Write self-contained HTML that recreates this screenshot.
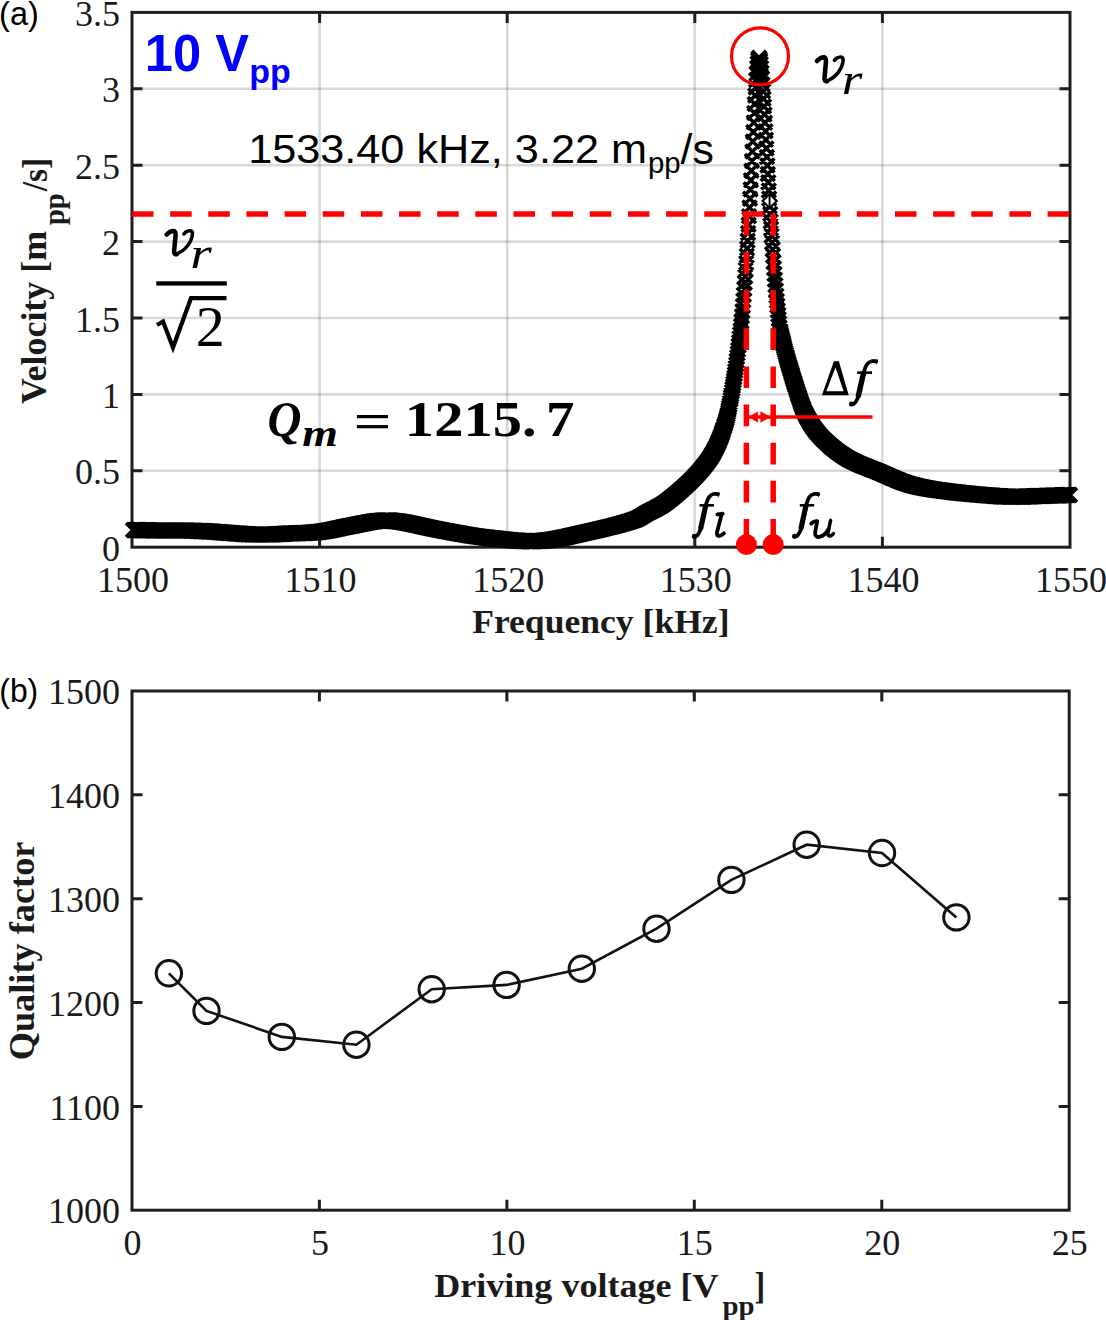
<!DOCTYPE html>
<html><head><meta charset="utf-8"><style>html,body{margin:0;padding:0;background:#fff;width:1106px;height:1320px;overflow:hidden}svg{display:block}</style></head><body>
<svg width="1106" height="1320" viewBox="0 0 1106 1320">
<rect width="1106" height="1320" fill="#fff"/>
<path d="M319.6 12.4V547.2M507.2 12.4V547.2M694.8 12.4V547.2M882.4 12.4V547.2" stroke="rgba(0,0,0,0.15)" stroke-width="2.6" fill="none"/>
<path d="M132.0 470.8H1070.0M132.0 394.4H1070.0M132.0 318.0H1070.0M132.0 241.6H1070.0M132.0 165.2H1070.0M132.0 88.8H1070.0" stroke="rgba(0,0,0,0.15)" stroke-width="2.6" fill="none"/>
<rect x="132.0" y="12.4" width="938.0" height="534.8000000000001" fill="none" stroke="#1e1e1e" stroke-width="3"/>
<path d="M319.6 12.4v10.5M319.6 547.2v-10.5M507.2 12.4v10.5M507.2 547.2v-10.5M694.8 12.4v10.5M694.8 547.2v-10.5M882.4 12.4v10.5M882.4 547.2v-10.5M132.0 470.8h10.5M1070.0 470.8h-10.5M132.0 394.4h10.5M1070.0 394.4h-10.5M132.0 318.0h10.5M1070.0 318.0h-10.5M132.0 241.6h10.5M1070.0 241.6h-10.5M132.0 165.2h10.5M1070.0 165.2h-10.5M132.0 88.8h10.5M1070.0 88.8h-10.5" stroke="#1e1e1e" stroke-width="3" fill="none"/>
<path d="M126.0 523.0l14 14m0-14l-14 14M126.5 523.0l14 14m0-14l-14 14M127.0 523.0l14 14m0-14l-14 14M127.5 523.0l14 14m0-14l-14 14M128.0 523.0l14 14m0-14l-14 14M128.5 523.0l14 14m0-14l-14 14M129.0 523.1l14 14m0-14l-14 14M129.4 523.1l14 14m0-14l-14 14M129.9 523.1l14 14m0-14l-14 14M130.4 523.1l14 14m0-14l-14 14M131.0 523.1l14 14m0-14l-14 14M131.5 523.1l14 14m0-14l-14 14M132.0 523.1l14 14m0-14l-14 14M132.5 523.1l14 14m0-14l-14 14M133.0 523.1l14 14m0-14l-14 14M133.5 523.2l14 14m0-14l-14 14M134.0 523.2l14 14m0-14l-14 14M134.5 523.2l14 14m0-14l-14 14M135.1 523.2l14 14m0-14l-14 14M135.6 523.2l14 14m0-14l-14 14M136.2 523.2l14 14m0-14l-14 14M136.7 523.2l14 14m0-14l-14 14M137.1 523.2l14 14m0-14l-14 14M137.6 523.2l14 14m0-14l-14 14M138.1 523.2l14 14m0-14l-14 14M138.6 523.3l14 14m0-14l-14 14M139.1 523.3l14 14m0-14l-14 14M139.6 523.3l14 14m0-14l-14 14M140.1 523.3l14 14m0-14l-14 14M140.6 523.3l14 14m0-14l-14 14M141.1 523.3l14 14m0-14l-14 14M141.6 523.3l14 14m0-14l-14 14M142.2 523.3l14 14m0-14l-14 14M142.7 523.3l14 14m0-14l-14 14M143.2 523.3l14 14m0-14l-14 14M143.8 523.3l14 14m0-14l-14 14M144.3 523.4l14 14m0-14l-14 14M144.8 523.4l14 14m0-14l-14 14M145.4 523.4l14 14m0-14l-14 14M145.9 523.4l14 14m0-14l-14 14M146.5 523.4l14 14m0-14l-14 14M147.0 523.4l14 14m0-14l-14 14M147.6 523.4l14 14m0-14l-14 14M148.2 523.4l14 14m0-14l-14 14M148.7 523.4l14 14m0-14l-14 14M149.3 523.4l14 14m0-14l-14 14M149.8 523.5l14 14m0-14l-14 14M150.4 523.5l14 14m0-14l-14 14M151.0 523.5l14 14m0-14l-14 14M151.5 523.5l14 14m0-14l-14 14M152.1 523.5l14 14m0-14l-14 14M152.7 523.5l14 14m0-14l-14 14M153.2 523.5l14 14m0-14l-14 14M153.8 523.5l14 14m0-14l-14 14M154.4 523.5l14 14m0-14l-14 14M155.0 523.5l14 14m0-14l-14 14M155.5 523.5l14 14m0-14l-14 14M156.1 523.5l14 14m0-14l-14 14M156.6 523.5l14 14m0-14l-14 14M157.1 523.5l14 14m0-14l-14 14M157.5 523.5l14 14m0-14l-14 14M158.0 523.5l14 14m0-14l-14 14M158.5 523.5l14 14m0-14l-14 14M159.0 523.5l14 14m0-14l-14 14M159.5 523.6l14 14m0-14l-14 14M160.0 523.6l14 14m0-14l-14 14M160.5 523.6l14 14m0-14l-14 14M161.0 523.6l14 14m0-14l-14 14M161.5 523.6l14 14m0-14l-14 14M162.0 523.6l14 14m0-14l-14 14M162.5 523.6l14 14m0-14l-14 14M163.0 523.6l14 14m0-14l-14 14M163.5 523.6l14 14m0-14l-14 14M164.0 523.6l14 14m0-14l-14 14M164.5 523.6l14 14m0-14l-14 14M165.0 523.6l14 14m0-14l-14 14M165.5 523.6l14 14m0-14l-14 14M166.1 523.6l14 14m0-14l-14 14M166.6 523.6l14 14m0-14l-14 14M167.1 523.6l14 14m0-14l-14 14M167.6 523.6l14 14m0-14l-14 14M168.2 523.6l14 14m0-14l-14 14M168.7 523.6l14 14m0-14l-14 14M169.2 523.6l14 14m0-14l-14 14M169.8 523.6l14 14m0-14l-14 14M170.3 523.6l14 14m0-14l-14 14M170.9 523.6l14 14m0-14l-14 14M171.4 523.6l14 14m0-14l-14 14M171.9 523.6l14 14m0-14l-14 14M172.5 523.6l14 14m0-14l-14 14M173.1 523.6l14 14m0-14l-14 14M173.6 523.6l14 14m0-14l-14 14M174.2 523.6l14 14m0-14l-14 14M174.7 523.6l14 14m0-14l-14 14M175.3 523.6l14 14m0-14l-14 14M175.9 523.6l14 14m0-14l-14 14M176.4 523.6l14 14m0-14l-14 14M177.0 523.6l14 14m0-14l-14 14M177.6 523.6l14 14m0-14l-14 14M178.1 523.6l14 14m0-14l-14 14M178.7 523.6l14 14m0-14l-14 14M179.3 523.6l14 14m0-14l-14 14M179.9 523.6l14 14m0-14l-14 14M180.4 523.6l14 14m0-14l-14 14M181.0 523.6l14 14m0-14l-14 14M181.6 523.6l14 14m0-14l-14 14M182.2 523.7l14 14m0-14l-14 14M182.8 523.7l14 14m0-14l-14 14M183.4 523.7l14 14m0-14l-14 14M184.0 523.7l14 14m0-14l-14 14M184.6 523.7l14 14m0-14l-14 14M185.2 523.7l14 14m0-14l-14 14M185.8 523.7l14 14m0-14l-14 14M186.4 523.7l14 14m0-14l-14 14M187.0 523.8l14 14m0-14l-14 14M187.6 523.8l14 14m0-14l-14 14M188.2 523.8l14 14m0-14l-14 14M188.8 523.8l14 14m0-14l-14 14M189.5 523.8l14 14m0-14l-14 14M190.1 523.9l14 14m0-14l-14 14M190.7 523.9l14 14m0-14l-14 14M191.3 523.9l14 14m0-14l-14 14M192.0 523.9l14 14m0-14l-14 14M192.4 523.9l14 14m0-14l-14 14M192.9 524.0l14 14m0-14l-14 14M193.4 524.0l14 14m0-14l-14 14M193.8 524.0l14 14m0-14l-14 14M194.3 524.0l14 14m0-14l-14 14M194.8 524.0l14 14m0-14l-14 14M195.3 524.1l14 14m0-14l-14 14M195.8 524.1l14 14m0-14l-14 14M196.3 524.1l14 14m0-14l-14 14M196.8 524.1l14 14m0-14l-14 14M197.3 524.2l14 14m0-14l-14 14M197.8 524.2l14 14m0-14l-14 14M198.3 524.2l14 14m0-14l-14 14M198.8 524.2l14 14m0-14l-14 14M199.3 524.3l14 14m0-14l-14 14M199.8 524.3l14 14m0-14l-14 14M200.3 524.3l14 14m0-14l-14 14M200.9 524.4l14 14m0-14l-14 14M201.4 524.4l14 14m0-14l-14 14M201.9 524.4l14 14m0-14l-14 14M202.5 524.5l14 14m0-14l-14 14M203.0 524.5l14 14m0-14l-14 14M203.5 524.5l14 14m0-14l-14 14M204.1 524.6l14 14m0-14l-14 14M204.6 524.6l14 14m0-14l-14 14M205.2 524.6l14 14m0-14l-14 14M205.7 524.7l14 14m0-14l-14 14M206.3 524.7l14 14m0-14l-14 14M206.8 524.8l14 14m0-14l-14 14M207.4 524.8l14 14m0-14l-14 14M208.0 524.8l14 14m0-14l-14 14M208.5 524.9l14 14m0-14l-14 14M209.1 524.9l14 14m0-14l-14 14M209.7 525.0l14 14m0-14l-14 14M210.2 525.0l14 14m0-14l-14 14M210.8 525.0l14 14m0-14l-14 14M211.4 525.1l14 14m0-14l-14 14M211.9 525.1l14 14m0-14l-14 14M212.5 525.2l14 14m0-14l-14 14M213.1 525.2l14 14m0-14l-14 14M213.7 525.3l14 14m0-14l-14 14M214.2 525.3l14 14m0-14l-14 14M214.8 525.3l14 14m0-14l-14 14M215.4 525.4l14 14m0-14l-14 14M216.0 525.4l14 14m0-14l-14 14M216.5 525.5l14 14m0-14l-14 14M217.1 525.5l14 14m0-14l-14 14M217.7 525.6l14 14m0-14l-14 14M218.3 525.6l14 14m0-14l-14 14M218.9 525.7l14 14m0-14l-14 14M219.4 525.7l14 14m0-14l-14 14M220.0 525.7l14 14m0-14l-14 14M220.6 525.8l14 14m0-14l-14 14M221.2 525.8l14 14m0-14l-14 14M221.8 525.9l14 14m0-14l-14 14M222.3 525.9l14 14m0-14l-14 14M222.9 526.0l14 14m0-14l-14 14M223.5 526.0l14 14m0-14l-14 14M224.1 526.0l14 14m0-14l-14 14M224.7 526.1l14 14m0-14l-14 14M225.2 526.1l14 14m0-14l-14 14M225.8 526.2l14 14m0-14l-14 14M226.4 526.2l14 14m0-14l-14 14M227.0 526.3l14 14m0-14l-14 14M227.5 526.3l14 14m0-14l-14 14M228.1 526.4l14 14m0-14l-14 14M228.7 526.4l14 14m0-14l-14 14M229.2 526.4l14 14m0-14l-14 14M229.8 526.5l14 14m0-14l-14 14M230.4 526.5l14 14m0-14l-14 14M230.9 526.6l14 14m0-14l-14 14M231.5 526.6l14 14m0-14l-14 14M232.0 526.6l14 14m0-14l-14 14M232.6 526.7l14 14m0-14l-14 14M233.2 526.7l14 14m0-14l-14 14M233.7 526.7l14 14m0-14l-14 14M234.3 526.8l14 14m0-14l-14 14M234.8 526.8l14 14m0-14l-14 14M235.4 526.9l14 14m0-14l-14 14M235.9 526.9l14 14m0-14l-14 14M236.4 526.9l14 14m0-14l-14 14M237.0 527.0l14 14m0-14l-14 14M237.5 527.0l14 14m0-14l-14 14M238.0 527.0l14 14m0-14l-14 14M238.6 527.1l14 14m0-14l-14 14M239.1 527.1l14 14m0-14l-14 14M239.6 527.1l14 14m0-14l-14 14M240.1 527.2l14 14m0-14l-14 14M240.6 527.2l14 14m0-14l-14 14M241.1 527.2l14 14m0-14l-14 14M241.7 527.2l14 14m0-14l-14 14M242.2 527.3l14 14m0-14l-14 14M242.7 527.3l14 14m0-14l-14 14M243.1 527.3l14 14m0-14l-14 14M243.6 527.3l14 14m0-14l-14 14M244.1 527.4l14 14m0-14l-14 14M244.6 527.4l14 14m0-14l-14 14M245.1 527.4l14 14m0-14l-14 14M245.6 527.4l14 14m0-14l-14 14M246.2 527.4l14 14m0-14l-14 14M246.8 527.5l14 14m0-14l-14 14M247.4 527.5l14 14m0-14l-14 14M248.0 527.5l14 14m0-14l-14 14M248.6 527.5l14 14m0-14l-14 14M249.2 527.5l14 14m0-14l-14 14M249.8 527.5l14 14m0-14l-14 14M250.3 527.6l14 14m0-14l-14 14M250.9 527.6l14 14m0-14l-14 14M251.5 527.6l14 14m0-14l-14 14M252.0 527.6l14 14m0-14l-14 14M252.6 527.6l14 14m0-14l-14 14M253.1 527.6l14 14m0-14l-14 14M253.7 527.6l14 14m0-14l-14 14M254.2 527.6l14 14m0-14l-14 14M254.7 527.6l14 14m0-14l-14 14M255.3 527.6l14 14m0-14l-14 14M255.8 527.6l14 14m0-14l-14 14M256.3 527.6l14 14m0-14l-14 14M256.8 527.6l14 14m0-14l-14 14M257.3 527.6l14 14m0-14l-14 14M257.8 527.6l14 14m0-14l-14 14M258.3 527.6l14 14m0-14l-14 14M258.8 527.6l14 14m0-14l-14 14M259.3 527.6l14 14m0-14l-14 14M259.8 527.6l14 14m0-14l-14 14M260.3 527.5l14 14m0-14l-14 14M260.8 527.5l14 14m0-14l-14 14M261.3 527.5l14 14m0-14l-14 14M261.7 527.5l14 14m0-14l-14 14M262.2 527.5l14 14m0-14l-14 14M262.8 527.5l14 14m0-14l-14 14M263.4 527.5l14 14m0-14l-14 14M264.0 527.4l14 14m0-14l-14 14M264.5 527.4l14 14m0-14l-14 14M265.1 527.4l14 14m0-14l-14 14M265.7 527.4l14 14m0-14l-14 14M266.2 527.4l14 14m0-14l-14 14M266.8 527.3l14 14m0-14l-14 14M267.3 527.3l14 14m0-14l-14 14M267.9 527.3l14 14m0-14l-14 14M268.4 527.3l14 14m0-14l-14 14M269.0 527.2l14 14m0-14l-14 14M269.5 527.2l14 14m0-14l-14 14M270.1 527.2l14 14m0-14l-14 14M270.6 527.1l14 14m0-14l-14 14M271.1 527.1l14 14m0-14l-14 14M271.7 527.1l14 14m0-14l-14 14M272.2 527.1l14 14m0-14l-14 14M272.7 527.0l14 14m0-14l-14 14M273.3 527.0l14 14m0-14l-14 14M273.8 527.0l14 14m0-14l-14 14M274.3 526.9l14 14m0-14l-14 14M274.8 526.9l14 14m0-14l-14 14M275.4 526.9l14 14m0-14l-14 14M275.9 526.9l14 14m0-14l-14 14M276.4 526.8l14 14m0-14l-14 14M276.9 526.8l14 14m0-14l-14 14M277.5 526.8l14 14m0-14l-14 14M278.0 526.7l14 14m0-14l-14 14M278.5 526.7l14 14m0-14l-14 14M279.0 526.7l14 14m0-14l-14 14M279.6 526.7l14 14m0-14l-14 14M280.1 526.6l14 14m0-14l-14 14M280.6 526.6l14 14m0-14l-14 14M281.2 526.6l14 14m0-14l-14 14M281.7 526.6l14 14m0-14l-14 14M282.2 526.5l14 14m0-14l-14 14M282.8 526.5l14 14m0-14l-14 14M283.3 526.5l14 14m0-14l-14 14M283.9 526.5l14 14m0-14l-14 14M284.4 526.4l14 14m0-14l-14 14M284.9 526.4l14 14m0-14l-14 14M285.5 526.4l14 14m0-14l-14 14M286.0 526.4l14 14m0-14l-14 14M286.5 526.4l14 14m0-14l-14 14M287.0 526.3l14 14m0-14l-14 14M287.6 526.3l14 14m0-14l-14 14M288.1 526.3l14 14m0-14l-14 14M288.6 526.3l14 14m0-14l-14 14M289.1 526.3l14 14m0-14l-14 14M289.6 526.3l14 14m0-14l-14 14M290.1 526.2l14 14m0-14l-14 14M290.6 526.2l14 14m0-14l-14 14M291.2 526.2l14 14m0-14l-14 14M291.7 526.2l14 14m0-14l-14 14M292.2 526.2l14 14m0-14l-14 14M292.7 526.2l14 14m0-14l-14 14M293.2 526.1l14 14m0-14l-14 14M293.7 526.1l14 14m0-14l-14 14M294.2 526.1l14 14m0-14l-14 14M294.7 526.1l14 14m0-14l-14 14M295.2 526.1l14 14m0-14l-14 14M295.7 526.1l14 14m0-14l-14 14M296.2 526.0l14 14m0-14l-14 14M296.6 526.0l14 14m0-14l-14 14M297.1 526.0l14 14m0-14l-14 14M297.6 526.0l14 14m0-14l-14 14M298.1 526.0l14 14m0-14l-14 14M298.6 525.9l14 14m0-14l-14 14M299.1 525.9l14 14m0-14l-14 14M299.6 525.9l14 14m0-14l-14 14M300.1 525.9l14 14m0-14l-14 14M300.6 525.8l14 14m0-14l-14 14M301.0 525.8l14 14m0-14l-14 14M301.5 525.8l14 14m0-14l-14 14M302.0 525.8l14 14m0-14l-14 14M302.5 525.7l14 14m0-14l-14 14M303.0 525.7l14 14m0-14l-14 14M303.5 525.7l14 14m0-14l-14 14M304.0 525.6l14 14m0-14l-14 14M304.4 525.6l14 14m0-14l-14 14M304.9 525.6l14 14m0-14l-14 14M305.4 525.5l14 14m0-14l-14 14M305.9 525.5l14 14m0-14l-14 14M306.4 525.5l14 14m0-14l-14 14M306.9 525.4l14 14m0-14l-14 14M307.4 525.4l14 14m0-14l-14 14M307.9 525.3l14 14m0-14l-14 14M308.4 525.3l14 14m0-14l-14 14M308.8 525.3l14 14m0-14l-14 14M309.3 525.2l14 14m0-14l-14 14M309.8 525.2l14 14m0-14l-14 14M310.3 525.1l14 14m0-14l-14 14M310.8 525.1l14 14m0-14l-14 14M311.3 525.0l14 14m0-14l-14 14M311.8 524.9l14 14m0-14l-14 14M312.3 524.9l14 14m0-14l-14 14M312.8 524.8l14 14m0-14l-14 14M313.3 524.8l14 14m0-14l-14 14M313.8 524.7l14 14m0-14l-14 14M314.3 524.6l14 14m0-14l-14 14M314.8 524.6l14 14m0-14l-14 14M315.3 524.5l14 14m0-14l-14 14M315.8 524.4l14 14m0-14l-14 14M316.3 524.3l14 14m0-14l-14 14M316.8 524.3l14 14m0-14l-14 14M317.3 524.2l14 14m0-14l-14 14M317.8 524.1l14 14m0-14l-14 14M318.3 524.0l14 14m0-14l-14 14M318.8 523.9l14 14m0-14l-14 14M319.3 523.8l14 14m0-14l-14 14M319.8 523.7l14 14m0-14l-14 14M320.3 523.7l14 14m0-14l-14 14M320.9 523.6l14 14m0-14l-14 14M321.4 523.5l14 14m0-14l-14 14M321.9 523.4l14 14m0-14l-14 14M322.4 523.3l14 14m0-14l-14 14M322.9 523.2l14 14m0-14l-14 14M323.4 523.1l14 14m0-14l-14 14M323.9 523.0l14 14m0-14l-14 14M324.4 522.9l14 14m0-14l-14 14M324.9 522.8l14 14m0-14l-14 14M325.4 522.7l14 14m0-14l-14 14M325.9 522.6l14 14m0-14l-14 14M326.4 522.5l14 14m0-14l-14 14M326.9 522.4l14 14m0-14l-14 14M327.4 522.3l14 14m0-14l-14 14M327.9 522.1l14 14m0-14l-14 14M328.4 522.0l14 14m0-14l-14 14M328.9 521.9l14 14m0-14l-14 14M329.4 521.8l14 14m0-14l-14 14M329.9 521.7l14 14m0-14l-14 14M330.4 521.6l14 14m0-14l-14 14M330.9 521.5l14 14m0-14l-14 14M331.4 521.4l14 14m0-14l-14 14M331.9 521.3l14 14m0-14l-14 14M332.4 521.2l14 14m0-14l-14 14M332.9 521.1l14 14m0-14l-14 14M333.4 521.0l14 14m0-14l-14 14M333.9 520.9l14 14m0-14l-14 14M334.4 520.7l14 14m0-14l-14 14M334.9 520.6l14 14m0-14l-14 14M335.4 520.5l14 14m0-14l-14 14M335.9 520.4l14 14m0-14l-14 14M336.4 520.3l14 14m0-14l-14 14M336.9 520.2l14 14m0-14l-14 14M337.4 520.1l14 14m0-14l-14 14M337.9 520.0l14 14m0-14l-14 14M338.4 519.9l14 14m0-14l-14 14M338.9 519.8l14 14m0-14l-14 14M339.4 519.7l14 14m0-14l-14 14M339.9 519.6l14 14m0-14l-14 14M340.4 519.5l14 14m0-14l-14 14M340.9 519.4l14 14m0-14l-14 14M341.4 519.3l14 14m0-14l-14 14M341.8 519.2l14 14m0-14l-14 14M342.3 519.1l14 14m0-14l-14 14M342.8 519.0l14 14m0-14l-14 14M343.3 518.9l14 14m0-14l-14 14M343.8 518.9l14 14m0-14l-14 14M344.3 518.8l14 14m0-14l-14 14M344.7 518.7l14 14m0-14l-14 14M345.2 518.6l14 14m0-14l-14 14M345.7 518.5l14 14m0-14l-14 14M346.2 518.4l14 14m0-14l-14 14M346.7 518.3l14 14m0-14l-14 14M347.2 518.2l14 14m0-14l-14 14M347.7 518.1l14 14m0-14l-14 14M348.1 518.0l14 14m0-14l-14 14M348.6 517.9l14 14m0-14l-14 14M349.1 517.8l14 14m0-14l-14 14M349.6 517.7l14 14m0-14l-14 14M350.1 517.6l14 14m0-14l-14 14M350.6 517.5l14 14m0-14l-14 14M351.1 517.4l14 14m0-14l-14 14M351.5 517.3l14 14m0-14l-14 14M352.0 517.2l14 14m0-14l-14 14M352.5 517.1l14 14m0-14l-14 14M353.0 517.0l14 14m0-14l-14 14M353.5 516.9l14 14m0-14l-14 14M354.0 516.8l14 14m0-14l-14 14M354.4 516.7l14 14m0-14l-14 14M354.9 516.6l14 14m0-14l-14 14M355.4 516.5l14 14m0-14l-14 14M355.9 516.4l14 14m0-14l-14 14M356.4 516.3l14 14m0-14l-14 14M356.8 516.2l14 14m0-14l-14 14M357.3 516.1l14 14m0-14l-14 14M357.8 516.0l14 14m0-14l-14 14M358.3 515.9l14 14m0-14l-14 14M358.7 515.9l14 14m0-14l-14 14M359.2 515.8l14 14m0-14l-14 14M359.8 515.7l14 14m0-14l-14 14M360.3 515.6l14 14m0-14l-14 14M360.9 515.4l14 14m0-14l-14 14M361.4 515.3l14 14m0-14l-14 14M362.0 515.2l14 14m0-14l-14 14M362.6 515.2l14 14m0-14l-14 14M363.1 515.1l14 14m0-14l-14 14M363.7 515.0l14 14m0-14l-14 14M364.2 514.9l14 14m0-14l-14 14M364.7 514.8l14 14m0-14l-14 14M365.3 514.7l14 14m0-14l-14 14M365.8 514.6l14 14m0-14l-14 14M366.3 514.5l14 14m0-14l-14 14M366.9 514.5l14 14m0-14l-14 14M367.4 514.4l14 14m0-14l-14 14M367.9 514.3l14 14m0-14l-14 14M368.5 514.3l14 14m0-14l-14 14M369.0 514.2l14 14m0-14l-14 14M369.5 514.1l14 14m0-14l-14 14M370.0 514.1l14 14m0-14l-14 14M370.5 514.0l14 14m0-14l-14 14M371.0 514.0l14 14m0-14l-14 14M371.5 514.0l14 14m0-14l-14 14M372.0 513.9l14 14m0-14l-14 14M372.5 513.9l14 14m0-14l-14 14M373.1 513.8l14 14m0-14l-14 14M373.6 513.8l14 14m0-14l-14 14M374.1 513.7l14 14m0-14l-14 14M374.6 513.7l14 14m0-14l-14 14M375.0 513.7l14 14m0-14l-14 14M375.5 513.6l14 14m0-14l-14 14M376.0 513.6l14 14m0-14l-14 14M376.6 513.6l14 14m0-14l-14 14M377.1 513.6l14 14m0-14l-14 14M377.6 513.5l14 14m0-14l-14 14M378.1 513.5l14 14m0-14l-14 14M378.6 513.5l14 14m0-14l-14 14M379.0 513.5l14 14m0-14l-14 14M379.5 513.5l14 14m0-14l-14 14M380.0 513.5l14 14m0-14l-14 14M380.5 513.5l14 14m0-14l-14 14M381.0 513.5l14 14m0-14l-14 14M381.5 513.5l14 14m0-14l-14 14M382.0 513.5l14 14m0-14l-14 14M382.5 513.5l14 14m0-14l-14 14M383.0 513.6l14 14m0-14l-14 14M383.6 513.6l14 14m0-14l-14 14M384.1 513.6l14 14m0-14l-14 14M384.5 513.7l14 14m0-14l-14 14M385.0 513.7l14 14m0-14l-14 14M385.6 513.8l14 14m0-14l-14 14M386.1 513.8l14 14m0-14l-14 14M386.6 513.9l14 14m0-14l-14 14M387.1 513.9l14 14m0-14l-14 14M387.6 514.0l14 14m0-14l-14 14M388.1 514.0l14 14m0-14l-14 14M388.6 514.1l14 14m0-14l-14 14M389.2 514.2l14 14m0-14l-14 14M389.7 514.2l14 14m0-14l-14 14M390.3 514.3l14 14m0-14l-14 14M390.7 514.4l14 14m0-14l-14 14M391.2 514.4l14 14m0-14l-14 14M391.7 514.5l14 14m0-14l-14 14M392.3 514.6l14 14m0-14l-14 14M392.8 514.7l14 14m0-14l-14 14M393.3 514.7l14 14m0-14l-14 14M393.9 514.8l14 14m0-14l-14 14M394.4 514.9l14 14m0-14l-14 14M395.0 515.0l14 14m0-14l-14 14M395.6 515.1l14 14m0-14l-14 14M396.1 515.2l14 14m0-14l-14 14M396.6 515.3l14 14m0-14l-14 14M397.1 515.4l14 14m0-14l-14 14M397.5 515.5l14 14m0-14l-14 14M398.1 515.6l14 14m0-14l-14 14M398.6 515.6l14 14m0-14l-14 14M399.1 515.7l14 14m0-14l-14 14M399.6 515.8l14 14m0-14l-14 14M400.1 515.9l14 14m0-14l-14 14M400.6 516.0l14 14m0-14l-14 14M401.2 516.2l14 14m0-14l-14 14M401.7 516.3l14 14m0-14l-14 14M402.2 516.4l14 14m0-14l-14 14M402.8 516.5l14 14m0-14l-14 14M403.3 516.6l14 14m0-14l-14 14M403.9 516.7l14 14m0-14l-14 14M404.5 516.8l14 14m0-14l-14 14M405.0 516.9l14 14m0-14l-14 14M405.6 517.1l14 14m0-14l-14 14M406.2 517.2l14 14m0-14l-14 14M406.7 517.3l14 14m0-14l-14 14M407.3 517.4l14 14m0-14l-14 14M407.9 517.6l14 14m0-14l-14 14M408.5 517.7l14 14m0-14l-14 14M409.1 517.8l14 14m0-14l-14 14M409.7 517.9l14 14m0-14l-14 14M410.3 518.1l14 14m0-14l-14 14M410.9 518.2l14 14m0-14l-14 14M411.5 518.3l14 14m0-14l-14 14M412.1 518.5l14 14m0-14l-14 14M412.7 518.6l14 14m0-14l-14 14M413.3 518.7l14 14m0-14l-14 14M413.9 518.9l14 14m0-14l-14 14M414.5 519.0l14 14m0-14l-14 14M415.1 519.1l14 14m0-14l-14 14M415.7 519.3l14 14m0-14l-14 14M416.3 519.4l14 14m0-14l-14 14M416.9 519.5l14 14m0-14l-14 14M417.6 519.7l14 14m0-14l-14 14M418.2 519.8l14 14m0-14l-14 14M418.8 520.0l14 14m0-14l-14 14M419.4 520.1l14 14m0-14l-14 14M420.0 520.2l14 14m0-14l-14 14M420.7 520.4l14 14m0-14l-14 14M421.3 520.5l14 14m0-14l-14 14M421.9 520.6l14 14m0-14l-14 14M422.5 520.8l14 14m0-14l-14 14M423.1 520.9l14 14m0-14l-14 14M423.8 521.0l14 14m0-14l-14 14M424.4 521.2l14 14m0-14l-14 14M425.0 521.3l14 14m0-14l-14 14M425.6 521.4l14 14m0-14l-14 14M426.2 521.6l14 14m0-14l-14 14M426.8 521.7l14 14m0-14l-14 14M427.5 521.8l14 14m0-14l-14 14M428.1 521.9l14 14m0-14l-14 14M428.7 522.1l14 14m0-14l-14 14M429.3 522.2l14 14m0-14l-14 14M429.9 522.3l14 14m0-14l-14 14M430.5 522.4l14 14m0-14l-14 14M431.1 522.6l14 14m0-14l-14 14M431.7 522.7l14 14m0-14l-14 14M432.3 522.8l14 14m0-14l-14 14M432.9 522.9l14 14m0-14l-14 14M433.5 523.0l14 14m0-14l-14 14M434.1 523.1l14 14m0-14l-14 14M434.7 523.3l14 14m0-14l-14 14M435.3 523.4l14 14m0-14l-14 14M435.9 523.5l14 14m0-14l-14 14M436.4 523.6l14 14m0-14l-14 14M437.0 523.7l14 14m0-14l-14 14M437.6 523.8l14 14m0-14l-14 14M438.2 523.9l14 14m0-14l-14 14M438.7 524.0l14 14m0-14l-14 14M439.3 524.1l14 14m0-14l-14 14M439.9 524.2l14 14m0-14l-14 14M440.5 524.3l14 14m0-14l-14 14M441.0 524.4l14 14m0-14l-14 14M441.6 524.5l14 14m0-14l-14 14M442.2 524.6l14 14m0-14l-14 14M442.8 524.7l14 14m0-14l-14 14M443.3 524.9l14 14m0-14l-14 14M443.9 525.0l14 14m0-14l-14 14M444.5 525.1l14 14m0-14l-14 14M445.0 525.2l14 14m0-14l-14 14M445.6 525.3l14 14m0-14l-14 14M446.2 525.4l14 14m0-14l-14 14M446.7 525.5l14 14m0-14l-14 14M447.3 525.6l14 14m0-14l-14 14M447.9 525.7l14 14m0-14l-14 14M448.4 525.8l14 14m0-14l-14 14M449.0 525.9l14 14m0-14l-14 14M449.6 526.0l14 14m0-14l-14 14M450.2 526.1l14 14m0-14l-14 14M450.7 526.2l14 14m0-14l-14 14M451.3 526.3l14 14m0-14l-14 14M451.9 526.4l14 14m0-14l-14 14M452.4 526.5l14 14m0-14l-14 14M453.0 526.6l14 14m0-14l-14 14M453.6 526.7l14 14m0-14l-14 14M454.1 526.8l14 14m0-14l-14 14M454.7 526.9l14 14m0-14l-14 14M455.3 527.0l14 14m0-14l-14 14M455.9 527.1l14 14m0-14l-14 14M456.4 527.2l14 14m0-14l-14 14M457.0 527.3l14 14m0-14l-14 14M457.6 527.4l14 14m0-14l-14 14M458.2 527.5l14 14m0-14l-14 14M458.7 527.6l14 14m0-14l-14 14M459.3 527.7l14 14m0-14l-14 14M459.9 527.8l14 14m0-14l-14 14M460.5 527.9l14 14m0-14l-14 14M461.0 528.0l14 14m0-14l-14 14M461.6 528.1l14 14m0-14l-14 14M462.2 528.2l14 14m0-14l-14 14M462.8 528.3l14 14m0-14l-14 14M463.4 528.4l14 14m0-14l-14 14M464.0 528.5l14 14m0-14l-14 14M464.6 528.5l14 14m0-14l-14 14M465.1 528.6l14 14m0-14l-14 14M465.7 528.7l14 14m0-14l-14 14M466.3 528.8l14 14m0-14l-14 14M466.9 528.9l14 14m0-14l-14 14M467.5 529.0l14 14m0-14l-14 14M468.1 529.1l14 14m0-14l-14 14M468.7 529.2l14 14m0-14l-14 14M469.3 529.3l14 14m0-14l-14 14M469.9 529.3l14 14m0-14l-14 14M470.5 529.4l14 14m0-14l-14 14M471.1 529.5l14 14m0-14l-14 14M471.7 529.6l14 14m0-14l-14 14M472.3 529.7l14 14m0-14l-14 14M473.0 529.8l14 14m0-14l-14 14M473.6 529.8l14 14m0-14l-14 14M474.2 529.9l14 14m0-14l-14 14M474.8 530.0l14 14m0-14l-14 14M475.4 530.1l14 14m0-14l-14 14M476.1 530.1l14 14m0-14l-14 14M476.7 530.2l14 14m0-14l-14 14M477.1 530.3l14 14m0-14l-14 14M477.6 530.3l14 14m0-14l-14 14M478.1 530.4l14 14m0-14l-14 14M478.6 530.4l14 14m0-14l-14 14M479.0 530.5l14 14m0-14l-14 14M479.5 530.5l14 14m0-14l-14 14M480.0 530.6l14 14m0-14l-14 14M480.5 530.7l14 14m0-14l-14 14M481.0 530.7l14 14m0-14l-14 14M481.4 530.8l14 14m0-14l-14 14M481.9 530.8l14 14m0-14l-14 14M482.4 530.9l14 14m0-14l-14 14M482.9 530.9l14 14m0-14l-14 14M483.4 531.0l14 14m0-14l-14 14M483.9 531.0l14 14m0-14l-14 14M484.4 531.1l14 14m0-14l-14 14M484.9 531.1l14 14m0-14l-14 14M485.4 531.2l14 14m0-14l-14 14M485.9 531.3l14 14m0-14l-14 14M486.4 531.3l14 14m0-14l-14 14M486.9 531.4l14 14m0-14l-14 14M487.4 531.4l14 14m0-14l-14 14M487.9 531.5l14 14m0-14l-14 14M488.4 531.5l14 14m0-14l-14 14M488.9 531.6l14 14m0-14l-14 14M489.4 531.7l14 14m0-14l-14 14M489.9 531.7l14 14m0-14l-14 14M490.4 531.8l14 14m0-14l-14 14M491.0 531.8l14 14m0-14l-14 14M491.5 531.9l14 14m0-14l-14 14M492.0 531.9l14 14m0-14l-14 14M492.5 532.0l14 14m0-14l-14 14M493.0 532.1l14 14m0-14l-14 14M493.5 532.1l14 14m0-14l-14 14M494.1 532.2l14 14m0-14l-14 14M494.6 532.2l14 14m0-14l-14 14M495.1 532.3l14 14m0-14l-14 14M495.6 532.3l14 14m0-14l-14 14M496.2 532.4l14 14m0-14l-14 14M496.7 532.4l14 14m0-14l-14 14M497.2 532.5l14 14m0-14l-14 14M497.7 532.6l14 14m0-14l-14 14M498.3 532.6l14 14m0-14l-14 14M498.8 532.7l14 14m0-14l-14 14M499.3 532.7l14 14m0-14l-14 14M499.8 532.8l14 14m0-14l-14 14M500.4 532.8l14 14m0-14l-14 14M500.9 532.9l14 14m0-14l-14 14M501.4 532.9l14 14m0-14l-14 14M502.0 533.0l14 14m0-14l-14 14M502.5 533.0l14 14m0-14l-14 14M503.0 533.1l14 14m0-14l-14 14M503.6 533.1l14 14m0-14l-14 14M504.1 533.2l14 14m0-14l-14 14M504.6 533.2l14 14m0-14l-14 14M505.2 533.3l14 14m0-14l-14 14M505.7 533.3l14 14m0-14l-14 14M506.2 533.4l14 14m0-14l-14 14M506.8 533.4l14 14m0-14l-14 14M507.3 533.4l14 14m0-14l-14 14M507.8 533.5l14 14m0-14l-14 14M508.4 533.5l14 14m0-14l-14 14M508.9 533.6l14 14m0-14l-14 14M509.4 533.6l14 14m0-14l-14 14M510.0 533.6l14 14m0-14l-14 14M510.5 533.7l14 14m0-14l-14 14M511.0 533.7l14 14m0-14l-14 14M511.6 533.7l14 14m0-14l-14 14M512.1 533.8l14 14m0-14l-14 14M512.6 533.8l14 14m0-14l-14 14M513.2 533.8l14 14m0-14l-14 14M513.7 533.9l14 14m0-14l-14 14M514.2 533.9l14 14m0-14l-14 14M514.8 533.9l14 14m0-14l-14 14M515.3 534.0l14 14m0-14l-14 14M515.8 534.0l14 14m0-14l-14 14M516.4 534.0l14 14m0-14l-14 14M516.9 534.0l14 14m0-14l-14 14M517.4 534.1l14 14m0-14l-14 14M518.0 534.1l14 14m0-14l-14 14M518.5 534.1l14 14m0-14l-14 14M519.0 534.1l14 14m0-14l-14 14M519.6 534.1l14 14m0-14l-14 14M520.1 534.1l14 14m0-14l-14 14M520.6 534.2l14 14m0-14l-14 14M521.1 534.2l14 14m0-14l-14 14M521.7 534.2l14 14m0-14l-14 14M522.2 534.2l14 14m0-14l-14 14M522.7 534.2l14 14m0-14l-14 14M523.2 534.2l14 14m0-14l-14 14M523.8 534.2l14 14m0-14l-14 14M524.3 534.2l14 14m0-14l-14 14M524.8 534.2l14 14m0-14l-14 14M525.3 534.2l14 14m0-14l-14 14M525.8 534.2l14 14m0-14l-14 14M526.4 534.2l14 14m0-14l-14 14M526.9 534.2l14 14m0-14l-14 14M527.4 534.2l14 14m0-14l-14 14M527.9 534.2l14 14m0-14l-14 14M528.4 534.1l14 14m0-14l-14 14M528.9 534.1l14 14m0-14l-14 14M529.5 534.1l14 14m0-14l-14 14M530.0 534.1l14 14m0-14l-14 14M530.5 534.1l14 14m0-14l-14 14M531.0 534.1l14 14m0-14l-14 14M531.5 534.0l14 14m0-14l-14 14M532.0 534.0l14 14m0-14l-14 14M532.5 534.0l14 14m0-14l-14 14M533.0 533.9l14 14m0-14l-14 14M533.5 533.9l14 14m0-14l-14 14M534.0 533.9l14 14m0-14l-14 14M534.5 533.8l14 14m0-14l-14 14M535.0 533.8l14 14m0-14l-14 14M535.5 533.7l14 14m0-14l-14 14M536.0 533.7l14 14m0-14l-14 14M536.5 533.7l14 14m0-14l-14 14M537.0 533.6l14 14m0-14l-14 14M537.6 533.6l14 14m0-14l-14 14M538.1 533.5l14 14m0-14l-14 14M538.6 533.5l14 14m0-14l-14 14M539.1 533.4l14 14m0-14l-14 14M539.6 533.3l14 14m0-14l-14 14M540.1 533.3l14 14m0-14l-14 14M540.6 533.2l14 14m0-14l-14 14M541.1 533.2l14 14m0-14l-14 14M541.6 533.1l14 14m0-14l-14 14M542.1 533.0l14 14m0-14l-14 14M542.6 533.0l14 14m0-14l-14 14M543.1 532.9l14 14m0-14l-14 14M543.6 532.8l14 14m0-14l-14 14M544.1 532.7l14 14m0-14l-14 14M544.6 532.7l14 14m0-14l-14 14M545.1 532.6l14 14m0-14l-14 14M545.6 532.5l14 14m0-14l-14 14M546.1 532.4l14 14m0-14l-14 14M546.6 532.4l14 14m0-14l-14 14M547.1 532.3l14 14m0-14l-14 14M547.6 532.2l14 14m0-14l-14 14M548.1 532.1l14 14m0-14l-14 14M548.6 532.0l14 14m0-14l-14 14M549.1 531.9l14 14m0-14l-14 14M549.6 531.8l14 14m0-14l-14 14M550.1 531.8l14 14m0-14l-14 14M550.6 531.7l14 14m0-14l-14 14M551.1 531.6l14 14m0-14l-14 14M551.6 531.5l14 14m0-14l-14 14M552.1 531.4l14 14m0-14l-14 14M552.6 531.3l14 14m0-14l-14 14M553.1 531.2l14 14m0-14l-14 14M553.6 531.1l14 14m0-14l-14 14M554.1 531.0l14 14m0-14l-14 14M554.6 530.9l14 14m0-14l-14 14M555.1 530.8l14 14m0-14l-14 14M555.6 530.7l14 14m0-14l-14 14M556.1 530.6l14 14m0-14l-14 14M556.6 530.5l14 14m0-14l-14 14M557.1 530.4l14 14m0-14l-14 14M557.6 530.3l14 14m0-14l-14 14M558.0 530.2l14 14m0-14l-14 14M558.5 530.1l14 14m0-14l-14 14M559.0 530.0l14 14m0-14l-14 14M559.5 529.9l14 14m0-14l-14 14M560.0 529.8l14 14m0-14l-14 14M560.5 529.7l14 14m0-14l-14 14M561.0 529.6l14 14m0-14l-14 14M561.5 529.4l14 14m0-14l-14 14M562.0 529.3l14 14m0-14l-14 14M562.5 529.2l14 14m0-14l-14 14M563.0 529.1l14 14m0-14l-14 14M563.4 529.0l14 14m0-14l-14 14M563.9 528.9l14 14m0-14l-14 14M564.4 528.8l14 14m0-14l-14 14M564.9 528.7l14 14m0-14l-14 14M565.4 528.6l14 14m0-14l-14 14M565.9 528.5l14 14m0-14l-14 14M566.4 528.3l14 14m0-14l-14 14M566.8 528.2l14 14m0-14l-14 14M567.3 528.1l14 14m0-14l-14 14M567.8 528.0l14 14m0-14l-14 14M568.3 527.9l14 14m0-14l-14 14M568.8 527.8l14 14m0-14l-14 14M569.2 527.7l14 14m0-14l-14 14M569.7 527.6l14 14m0-14l-14 14M570.2 527.5l14 14m0-14l-14 14M570.7 527.3l14 14m0-14l-14 14M571.2 527.2l14 14m0-14l-14 14M571.6 527.1l14 14m0-14l-14 14M572.1 527.0l14 14m0-14l-14 14M572.6 526.9l14 14m0-14l-14 14M573.1 526.8l14 14m0-14l-14 14M573.5 526.7l14 14m0-14l-14 14M574.0 526.6l14 14m0-14l-14 14M574.5 526.5l14 14m0-14l-14 14M574.9 526.4l14 14m0-14l-14 14M575.4 526.3l14 14m0-14l-14 14M576.0 526.1l14 14m0-14l-14 14M576.7 526.0l14 14m0-14l-14 14M577.3 525.8l14 14m0-14l-14 14M577.9 525.7l14 14m0-14l-14 14M578.5 525.5l14 14m0-14l-14 14M579.2 525.4l14 14m0-14l-14 14M579.8 525.3l14 14m0-14l-14 14M580.4 525.1l14 14m0-14l-14 14M581.0 525.0l14 14m0-14l-14 14M581.6 524.9l14 14m0-14l-14 14M582.2 524.7l14 14m0-14l-14 14M582.9 524.6l14 14m0-14l-14 14M583.5 524.5l14 14m0-14l-14 14M584.1 524.3l14 14m0-14l-14 14M584.7 524.2l14 14m0-14l-14 14M585.2 524.1l14 14m0-14l-14 14M585.7 524.0l14 14m0-14l-14 14M586.1 523.9l14 14m0-14l-14 14M586.6 523.8l14 14m0-14l-14 14M587.1 523.6l14 14m0-14l-14 14M587.6 523.5l14 14m0-14l-14 14M588.0 523.4l14 14m0-14l-14 14M588.5 523.3l14 14m0-14l-14 14M589.0 523.2l14 14m0-14l-14 14M589.5 523.1l14 14m0-14l-14 14M589.9 523.0l14 14m0-14l-14 14M590.4 522.9l14 14m0-14l-14 14M590.9 522.8l14 14m0-14l-14 14M591.4 522.7l14 14m0-14l-14 14M591.8 522.5l14 14m0-14l-14 14M592.3 522.4l14 14m0-14l-14 14M592.8 522.3l14 14m0-14l-14 14M593.3 522.2l14 14m0-14l-14 14M593.8 522.1l14 14m0-14l-14 14M594.2 522.0l14 14m0-14l-14 14M594.7 521.9l14 14m0-14l-14 14M595.2 521.8l14 14m0-14l-14 14M595.7 521.6l14 14m0-14l-14 14M596.1 521.5l14 14m0-14l-14 14M596.6 521.4l14 14m0-14l-14 14M597.1 521.3l14 14m0-14l-14 14M597.6 521.2l14 14m0-14l-14 14M598.0 521.1l14 14m0-14l-14 14M598.5 520.9l14 14m0-14l-14 14M599.0 520.8l14 14m0-14l-14 14M599.5 520.7l14 14m0-14l-14 14M599.9 520.6l14 14m0-14l-14 14M600.6 520.4l14 14m0-14l-14 14M601.2 520.3l14 14m0-14l-14 14M601.8 520.1l14 14m0-14l-14 14M602.4 520.0l14 14m0-14l-14 14M603.0 519.8l14 14m0-14l-14 14M603.6 519.7l14 14m0-14l-14 14M604.3 519.5l14 14m0-14l-14 14M604.9 519.4l14 14m0-14l-14 14M605.5 519.2l14 14m0-14l-14 14M606.1 519.1l14 14m0-14l-14 14M606.7 518.9l14 14m0-14l-14 14M607.3 518.7l14 14m0-14l-14 14M607.9 518.6l14 14m0-14l-14 14M608.4 518.4l14 14m0-14l-14 14M609.0 518.3l14 14m0-14l-14 14M609.6 518.1l14 14m0-14l-14 14M610.2 518.0l14 14m0-14l-14 14M610.8 517.8l14 14m0-14l-14 14M611.3 517.7l14 14m0-14l-14 14M611.9 517.5l14 14m0-14l-14 14M612.4 517.4l14 14m0-14l-14 14M613.0 517.2l14 14m0-14l-14 14M613.5 517.1l14 14m0-14l-14 14M614.1 516.9l14 14m0-14l-14 14M614.6 516.8l14 14m0-14l-14 14M615.2 516.6l14 14m0-14l-14 14M615.7 516.5l14 14m0-14l-14 14M616.2 516.3l14 14m0-14l-14 14M616.7 516.2l14 14m0-14l-14 14M617.2 516.0l14 14m0-14l-14 14M617.7 515.9l14 14m0-14l-14 14M618.2 515.8l14 14m0-14l-14 14M618.7 515.6l14 14m0-14l-14 14M619.2 515.5l14 14m0-14l-14 14M619.7 515.3l14 14m0-14l-14 14M620.2 515.2l14 14m0-14l-14 14M620.8 515.0l14 14m0-14l-14 14M621.4 514.8l14 14m0-14l-14 14M621.9 514.7l14 14m0-14l-14 14M622.5 514.5l14 14m0-14l-14 14M623.0 514.3l14 14m0-14l-14 14M623.5 514.2l14 14m0-14l-14 14M624.0 514.0l14 14m0-14l-14 14M624.5 513.8l14 14m0-14l-14 14M625.0 513.7l14 14m0-14l-14 14M625.6 513.5l14 14m0-14l-14 14M626.1 513.3l14 14m0-14l-14 14M626.6 513.1l14 14m0-14l-14 14M627.1 513.0l14 14m0-14l-14 14M627.6 512.8l14 14m0-14l-14 14M628.1 512.6l14 14m0-14l-14 14M628.6 512.4l14 14m0-14l-14 14M629.1 512.2l14 14m0-14l-14 14M629.6 511.9l14 14m0-14l-14 14M630.1 511.7l14 14m0-14l-14 14M630.6 511.5l14 14m0-14l-14 14M631.1 511.3l14 14m0-14l-14 14M631.6 511.0l14 14m0-14l-14 14M632.1 510.8l14 14m0-14l-14 14M632.6 510.5l14 14m0-14l-14 14M633.0 510.3l14 14m0-14l-14 14M633.5 510.0l14 14m0-14l-14 14M634.0 509.7l14 14m0-14l-14 14M634.5 509.4l14 14m0-14l-14 14M635.0 509.1l14 14m0-14l-14 14M635.5 508.7l14 14m0-14l-14 14M636.0 508.4l14 14m0-14l-14 14M636.5 508.1l14 14m0-14l-14 14M637.0 507.8l14 14m0-14l-14 14M637.5 507.5l14 14m0-14l-14 14M638.0 507.2l14 14m0-14l-14 14M638.5 506.9l14 14m0-14l-14 14M639.0 506.6l14 14m0-14l-14 14M639.5 506.3l14 14m0-14l-14 14M640.0 506.0l14 14m0-14l-14 14M640.5 505.7l14 14m0-14l-14 14M641.0 505.5l14 14m0-14l-14 14M641.4 505.2l14 14m0-14l-14 14M641.9 505.0l14 14m0-14l-14 14M642.4 504.7l14 14m0-14l-14 14M642.9 504.5l14 14m0-14l-14 14M643.4 504.3l14 14m0-14l-14 14M643.9 504.0l14 14m0-14l-14 14M644.4 503.8l14 14m0-14l-14 14M644.9 503.5l14 14m0-14l-14 14M645.3 503.3l14 14m0-14l-14 14M645.8 503.0l14 14m0-14l-14 14M646.3 502.8l14 14m0-14l-14 14M646.8 502.5l14 14m0-14l-14 14M647.4 502.3l14 14m0-14l-14 14M647.9 502.0l14 14m0-14l-14 14M648.4 501.8l14 14m0-14l-14 14M648.9 501.5l14 14m0-14l-14 14M649.4 501.2l14 14m0-14l-14 14M649.9 500.9l14 14m0-14l-14 14M650.5 500.6l14 14m0-14l-14 14M651.0 500.4l14 14m0-14l-14 14M651.5 500.1l14 14m0-14l-14 14M651.9 499.8l14 14m0-14l-14 14M652.4 499.5l14 14m0-14l-14 14M652.9 499.3l14 14m0-14l-14 14M653.4 499.0l14 14m0-14l-14 14M653.9 498.7l14 14m0-14l-14 14M654.4 498.4l14 14m0-14l-14 14M654.9 498.1l14 14m0-14l-14 14M655.4 497.7l14 14m0-14l-14 14M655.9 497.4l14 14m0-14l-14 14M656.4 497.1l14 14m0-14l-14 14M656.9 496.7l14 14m0-14l-14 14M657.5 496.4l14 14m0-14l-14 14M658.0 496.0l14 14m0-14l-14 14M658.5 495.6l14 14m0-14l-14 14M659.1 495.2l14 14m0-14l-14 14M659.6 494.8l14 14m0-14l-14 14M660.1 494.4l14 14m0-14l-14 14M660.6 494.1l14 14m0-14l-14 14M661.1 493.7l14 14m0-14l-14 14M661.5 493.3l14 14m0-14l-14 14M662.1 492.9l14 14m0-14l-14 14M662.6 492.5l14 14m0-14l-14 14M663.1 492.1l14 14m0-14l-14 14M663.6 491.7l14 14m0-14l-14 14M664.2 491.2l14 14m0-14l-14 14M664.7 490.8l14 14m0-14l-14 14M665.2 490.4l14 14m0-14l-14 14M665.8 489.9l14 14m0-14l-14 14M666.4 489.5l14 14m0-14l-14 14M666.9 489.0l14 14m0-14l-14 14M667.4 488.6l14 14m0-14l-14 14M667.9 488.2l14 14m0-14l-14 14M668.3 487.8l14 14m0-14l-14 14M668.8 487.4l14 14m0-14l-14 14M669.3 487.0l14 14m0-14l-14 14M669.8 486.6l14 14m0-14l-14 14M670.3 486.2l14 14m0-14l-14 14M670.8 485.7l14 14m0-14l-14 14M671.3 485.3l14 14m0-14l-14 14M671.7 484.9l14 14m0-14l-14 14M672.2 484.5l14 14m0-14l-14 14M672.7 484.0l14 14m0-14l-14 14M673.2 483.6l14 14m0-14l-14 14M673.7 483.2l14 14m0-14l-14 14M674.2 482.7l14 14m0-14l-14 14M674.7 482.3l14 14m0-14l-14 14M675.2 481.9l14 14m0-14l-14 14M675.7 481.4l14 14m0-14l-14 14M676.2 481.0l14 14m0-14l-14 14M676.6 480.5l14 14m0-14l-14 14M677.1 480.1l14 14m0-14l-14 14M677.6 479.7l14 14m0-14l-14 14M678.1 479.2l14 14m0-14l-14 14M678.6 478.8l14 14m0-14l-14 14M679.1 478.3l14 14m0-14l-14 14M679.5 477.9l14 14m0-14l-14 14M680.0 477.4l14 14m0-14l-14 14M680.5 477.0l14 14m0-14l-14 14M681.0 476.5l14 14m0-14l-14 14M681.6 475.9l14 14m0-14l-14 14M682.1 475.4l14 14m0-14l-14 14M682.7 474.9l14 14m0-14l-14 14M683.2 474.4l14 14m0-14l-14 14M683.8 473.8l14 14m0-14l-14 14M684.3 473.3l14 14m0-14l-14 14M684.8 472.8l14 14m0-14l-14 14M685.3 472.3l14 14m0-14l-14 14M685.8 471.8l14 14m0-14l-14 14M686.3 471.3l14 14m0-14l-14 14M686.8 470.7l14 14m0-14l-14 14M687.3 470.2l14 14m0-14l-14 14M687.8 469.7l14 14m0-14l-14 14M688.3 469.1l14 14m0-14l-14 14M688.9 468.5l14 14m0-14l-14 14M689.4 468.0l14 14m0-14l-14 14M689.9 467.4l14 14m0-14l-14 14M690.4 466.8l14 14m0-14l-14 14M691.0 466.2l14 14m0-14l-14 14M691.5 465.7l14 14m0-14l-14 14M692.0 465.1l14 14m0-14l-14 14M692.5 464.5l14 14m0-14l-14 14M693.0 464.0l14 14m0-14l-14 14M693.5 463.4l14 14m0-14l-14 14M693.9 462.9l14 14m0-14l-14 14M694.4 462.3l14 14m0-14l-14 14M694.9 461.7l14 14m0-14l-14 14M695.4 461.1l14 14m0-14l-14 14M696.0 460.4l14 14m0-14l-14 14M696.5 459.8l14 14m0-14l-14 14M697.0 459.1l14 14m0-14l-14 14M697.5 458.5l14 14m0-14l-14 14M698.0 457.8l14 14m0-14l-14 14M698.5 457.2l14 14m0-14l-14 14M699.0 456.5l14 14m0-14l-14 14M699.5 455.9l14 14m0-14l-14 14M700.0 455.2l14 14m0-14l-14 14M700.5 454.6l14 14m0-14l-14 14M701.0 453.9l14 14m0-14l-14 14M701.4 453.2l14 14m0-14l-14 14M701.9 452.5l14 14m0-14l-14 14M702.5 451.7l14 14m0-14l-14 14M703.0 450.9l14 14m0-14l-14 14M703.5 450.2l14 14m0-14l-14 14M704.0 449.4l14 14m0-14l-14 14M704.5 448.6l14 14m0-14l-14 14M705.0 447.8l14 14m0-14l-14 14M705.4 447.0l14 14m0-14l-14 14M705.9 446.2l14 14m0-14l-14 14M706.4 445.4l14 14m0-14l-14 14M706.9 444.4l14 14m0-14l-14 14M707.4 443.5l14 14m0-14l-14 14M707.9 442.6l14 14m0-14l-14 14M708.4 441.6l14 14m0-14l-14 14M708.9 440.6l14 14m0-14l-14 14M709.4 439.7l14 14m0-14l-14 14M709.9 438.6l14 14m0-14l-14 14M710.4 437.5l14 14m0-14l-14 14M710.9 436.4l14 14m0-14l-14 14M711.4 435.3l14 14m0-14l-14 14M711.8 434.2l14 14m0-14l-14 14M712.3 432.9l14 14m0-14l-14 14M712.8 431.7l14 14m0-14l-14 14M713.3 430.5l14 14m0-14l-14 14M713.8 429.2l14 14m0-14l-14 14M714.3 427.9l14 14m0-14l-14 14M714.8 426.5l14 14m0-14l-14 14M715.2 425.2l14 14m0-14l-14 14M715.7 423.8l14 14m0-14l-14 14M716.2 422.3l14 14m0-14l-14 14M716.7 420.9l14 14m0-14l-14 14M717.2 419.4l14 14m0-14l-14 14M717.7 417.9l14 14m0-14l-14 14M718.2 416.4l14 14m0-14l-14 14M718.7 414.8l14 14m0-14l-14 14M719.1 413.2l14 14m0-14l-14 14M719.6 411.5l14 14m0-14l-14 14M720.1 409.6l14 14m0-14l-14 14M720.6 407.7l14 14m0-14l-14 14M721.1 405.6l14 14m0-14l-14 14M721.5 403.3l14 14m0-14l-14 14M722.0 400.8l14 14m0-14l-14 14M722.5 398.2l14 14m0-14l-14 14M723.0 395.5l14 14m0-14l-14 14M723.5 392.8l14 14m0-14l-14 14M723.9 390.1l14 14m0-14l-14 14M724.4 387.4l14 14m0-14l-14 14M724.9 384.8l14 14m0-14l-14 14M725.4 382.1l14 14m0-14l-14 14M725.9 379.3l14 14m0-14l-14 14M726.3 376.4l14 14m0-14l-14 14M726.8 373.5l14 14m0-14l-14 14M727.3 370.4l14 14m0-14l-14 14M727.8 367.3l14 14m0-14l-14 14M728.2 364.0l14 14m0-14l-14 14M728.7 360.7l14 14m0-14l-14 14M729.2 357.4l14 14m0-14l-14 14M729.6 353.8l14 14m0-14l-14 14M730.1 350.1l14 14m0-14l-14 14M730.6 346.4l14 14m0-14l-14 14M731.1 342.7l14 14m0-14l-14 14M731.6 338.8l14 14m0-14l-14 14M732.1 334.9l14 14m0-14l-14 14M732.5 331.1l14 14m0-14l-14 14M733.0 327.2l14 14m0-14l-14 14M733.5 323.5l14 14m0-14l-14 14M734.0 318.9l14 14m0-14l-14 14M734.4 314.2l14 14m0-14l-14 14M734.9 309.2l14 14m0-14l-14 14M735.4 304.2l14 14m0-14l-14 14M735.9 298.9l14 14m0-14l-14 14M736.3 293.5l14 14m0-14l-14 14M736.8 287.7l14 14m0-14l-14 14M737.3 281.9l14 14m0-14l-14 14M737.8 275.8l14 14m0-14l-14 14M738.2 269.4l14 14m0-14l-14 14M738.7 262.7l14 14m0-14l-14 14M739.2 255.9l14 14m0-14l-14 14M739.7 248.8l14 14m0-14l-14 14M740.1 241.4l14 14m0-14l-14 14M740.6 233.8l14 14m0-14l-14 14M741.1 225.9l14 14m0-14l-14 14M741.6 217.8l14 14m0-14l-14 14M742.0 209.3l14 14m0-14l-14 14M742.5 200.6l14 14m0-14l-14 14M743.0 191.8l14 14m0-14l-14 14M743.5 182.6l14 14m0-14l-14 14M743.9 173.2l14 14m0-14l-14 14M744.4 163.7l14 14m0-14l-14 14M744.9 154.0l14 14m0-14l-14 14M745.4 144.4l14 14m0-14l-14 14M745.8 134.6l14 14m0-14l-14 14M746.3 124.9l14 14m0-14l-14 14M746.8 115.4l14 14m0-14l-14 14M747.2 106.0l14 14m0-14l-14 14M747.7 97.0l14 14m0-14l-14 14M748.2 88.4l14 14m0-14l-14 14M748.7 80.4l14 14m0-14l-14 14M749.1 73.0l14 14m0-14l-14 14M749.6 66.5l14 14m0-14l-14 14M750.1 61.0l14 14m0-14l-14 14M750.6 56.6l14 14m0-14l-14 14M751.1 53.3l14 14m0-14l-14 14M751.6 51.2l14 14m0-14l-14 14M752.2 50.8l14 14m0-14l-14 14M752.7 51.9l14 14m0-14l-14 14M753.2 54.0l14 14m0-14l-14 14M753.7 57.0l14 14m0-14l-14 14M754.2 60.9l14 14m0-14l-14 14M754.6 65.7l14 14m0-14l-14 14M755.1 71.3l14 14m0-14l-14 14M755.6 77.5l14 14m0-14l-14 14M756.1 84.3l14 14m0-14l-14 14M756.5 91.7l14 14m0-14l-14 14M757.0 99.4l14 14m0-14l-14 14M757.5 107.5l14 14m0-14l-14 14M758.0 115.8l14 14m0-14l-14 14M758.5 124.2l14 14m0-14l-14 14M758.9 132.8l14 14m0-14l-14 14M759.4 141.4l14 14m0-14l-14 14M759.9 150.0l14 14m0-14l-14 14M760.4 158.5l14 14m0-14l-14 14M760.8 167.0l14 14m0-14l-14 14M761.3 175.3l14 14m0-14l-14 14M761.8 183.4l14 14m0-14l-14 14M762.2 191.5l14 14m0-14l-14 14M762.7 199.4l14 14m0-14l-14 14M763.2 207.0l14 14m0-14l-14 14M763.7 214.5l14 14m0-14l-14 14M764.1 221.7l14 14m0-14l-14 14M764.6 228.8l14 14m0-14l-14 14M765.1 235.6l14 14m0-14l-14 14M765.6 242.3l14 14m0-14l-14 14M766.0 248.8l14 14m0-14l-14 14M766.5 255.1l14 14m0-14l-14 14M767.0 261.2l14 14m0-14l-14 14M767.5 267.0l14 14m0-14l-14 14M767.9 272.8l14 14m0-14l-14 14M768.4 278.2l14 14m0-14l-14 14M768.9 283.5l14 14m0-14l-14 14M769.4 288.7l14 14m0-14l-14 14M769.8 293.7l14 14m0-14l-14 14M770.3 298.6l14 14m0-14l-14 14M770.8 303.3l14 14m0-14l-14 14M771.3 307.8l14 14m0-14l-14 14M771.7 312.1l14 14m0-14l-14 14M772.2 316.3l14 14m0-14l-14 14M772.7 320.4l14 14m0-14l-14 14M773.2 323.7l14 14m0-14l-14 14M773.7 325.7l14 14m0-14l-14 14M774.1 327.7l14 14m0-14l-14 14M774.6 329.7l14 14m0-14l-14 14M775.1 331.7l14 14m0-14l-14 14M775.6 333.7l14 14m0-14l-14 14M776.1 335.8l14 14m0-14l-14 14M776.6 337.8l14 14m0-14l-14 14M777.0 339.7l14 14m0-14l-14 14M777.5 341.7l14 14m0-14l-14 14M778.0 343.6l14 14m0-14l-14 14M778.5 345.4l14 14m0-14l-14 14M779.0 347.3l14 14m0-14l-14 14M779.5 349.1l14 14m0-14l-14 14M779.9 350.8l14 14m0-14l-14 14M780.4 352.5l14 14m0-14l-14 14M780.9 354.2l14 14m0-14l-14 14M781.4 356.0l14 14m0-14l-14 14M781.9 357.7l14 14m0-14l-14 14M782.4 359.4l14 14m0-14l-14 14M782.9 361.0l14 14m0-14l-14 14M783.4 362.6l14 14m0-14l-14 14M783.9 364.3l14 14m0-14l-14 14M784.4 366.0l14 14m0-14l-14 14M784.9 367.6l14 14m0-14l-14 14M785.4 369.3l14 14m0-14l-14 14M785.8 370.9l14 14m0-14l-14 14M786.3 372.4l14 14m0-14l-14 14M786.8 373.9l14 14m0-14l-14 14M787.3 375.5l14 14m0-14l-14 14M787.8 377.1l14 14m0-14l-14 14M788.3 378.7l14 14m0-14l-14 14M788.8 380.3l14 14m0-14l-14 14M789.3 381.8l14 14m0-14l-14 14M789.7 383.2l14 14m0-14l-14 14M790.2 384.7l14 14m0-14l-14 14M790.7 386.2l14 14m0-14l-14 14M791.2 387.7l14 14m0-14l-14 14M791.7 389.1l14 14m0-14l-14 14M792.2 390.6l14 14m0-14l-14 14M792.7 392.0l14 14m0-14l-14 14M793.2 393.5l14 14m0-14l-14 14M793.7 394.9l14 14m0-14l-14 14M794.1 396.3l14 14m0-14l-14 14M794.6 397.7l14 14m0-14l-14 14M795.1 399.0l14 14m0-14l-14 14M795.6 400.3l14 14m0-14l-14 14M796.1 401.6l14 14m0-14l-14 14M796.5 402.8l14 14m0-14l-14 14M797.0 403.9l14 14m0-14l-14 14M797.5 405.0l14 14m0-14l-14 14M798.0 406.1l14 14m0-14l-14 14M798.5 407.1l14 14m0-14l-14 14M799.0 408.1l14 14m0-14l-14 14M799.5 409.1l14 14m0-14l-14 14M800.0 410.0l14 14m0-14l-14 14M800.5 410.9l14 14m0-14l-14 14M801.0 411.8l14 14m0-14l-14 14M801.5 412.6l14 14m0-14l-14 14M802.0 413.5l14 14m0-14l-14 14M802.5 414.3l14 14m0-14l-14 14M803.0 415.2l14 14m0-14l-14 14M803.4 416.0l14 14m0-14l-14 14M803.9 416.8l14 14m0-14l-14 14M804.4 417.5l14 14m0-14l-14 14M804.9 418.3l14 14m0-14l-14 14M805.4 419.1l14 14m0-14l-14 14M805.9 419.9l14 14m0-14l-14 14M806.4 420.5l14 14m0-14l-14 14M806.9 421.2l14 14m0-14l-14 14M807.4 421.9l14 14m0-14l-14 14M807.9 422.6l14 14m0-14l-14 14M808.4 423.3l14 14m0-14l-14 14M808.9 423.9l14 14m0-14l-14 14M809.4 424.6l14 14m0-14l-14 14M809.8 425.2l14 14m0-14l-14 14M810.4 425.8l14 14m0-14l-14 14M810.9 426.4l14 14m0-14l-14 14M811.4 427.0l14 14m0-14l-14 14M811.9 427.6l14 14m0-14l-14 14M812.3 428.1l14 14m0-14l-14 14M812.8 428.7l14 14m0-14l-14 14M813.3 429.2l14 14m0-14l-14 14M813.8 429.8l14 14m0-14l-14 14M814.3 430.3l14 14m0-14l-14 14M814.9 430.9l14 14m0-14l-14 14M815.4 431.4l14 14m0-14l-14 14M815.9 431.9l14 14m0-14l-14 14M816.4 432.4l14 14m0-14l-14 14M816.9 432.9l14 14m0-14l-14 14M817.3 433.3l14 14m0-14l-14 14M817.9 433.8l14 14m0-14l-14 14M818.4 434.3l14 14m0-14l-14 14M818.9 434.8l14 14m0-14l-14 14M819.4 435.3l14 14m0-14l-14 14M819.9 435.8l14 14m0-14l-14 14M820.5 436.3l14 14m0-14l-14 14M821.0 436.8l14 14m0-14l-14 14M821.5 437.3l14 14m0-14l-14 14M822.0 437.7l14 14m0-14l-14 14M822.5 438.1l14 14m0-14l-14 14M823.0 438.5l14 14m0-14l-14 14M823.5 438.9l14 14m0-14l-14 14M823.9 439.4l14 14m0-14l-14 14M824.4 439.8l14 14m0-14l-14 14M824.9 440.2l14 14m0-14l-14 14M825.4 440.6l14 14m0-14l-14 14M825.9 441.0l14 14m0-14l-14 14M826.4 441.4l14 14m0-14l-14 14M826.9 441.8l14 14m0-14l-14 14M827.5 442.3l14 14m0-14l-14 14M828.0 442.7l14 14m0-14l-14 14M828.5 443.1l14 14m0-14l-14 14M829.0 443.5l14 14m0-14l-14 14M829.5 443.9l14 14m0-14l-14 14M830.1 444.3l14 14m0-14l-14 14M830.6 444.7l14 14m0-14l-14 14M831.1 445.1l14 14m0-14l-14 14M831.7 445.5l14 14m0-14l-14 14M832.2 445.9l14 14m0-14l-14 14M832.8 446.3l14 14m0-14l-14 14M833.3 446.6l14 14m0-14l-14 14M833.8 447.0l14 14m0-14l-14 14M834.4 447.4l14 14m0-14l-14 14M834.9 447.8l14 14m0-14l-14 14M835.5 448.1l14 14m0-14l-14 14M836.1 448.5l14 14m0-14l-14 14M836.6 448.9l14 14m0-14l-14 14M837.2 449.2l14 14m0-14l-14 14M837.7 449.6l14 14m0-14l-14 14M838.3 450.0l14 14m0-14l-14 14M838.8 450.3l14 14m0-14l-14 14M839.2 450.5l14 14m0-14l-14 14M839.7 450.8l14 14m0-14l-14 14M840.2 451.1l14 14m0-14l-14 14M840.7 451.4l14 14m0-14l-14 14M841.2 451.7l14 14m0-14l-14 14M841.6 451.9l14 14m0-14l-14 14M842.1 452.2l14 14m0-14l-14 14M842.6 452.5l14 14m0-14l-14 14M843.1 452.8l14 14m0-14l-14 14M843.6 453.0l14 14m0-14l-14 14M844.1 453.3l14 14m0-14l-14 14M844.6 453.5l14 14m0-14l-14 14M845.1 453.8l14 14m0-14l-14 14M845.6 454.0l14 14m0-14l-14 14M846.1 454.3l14 14m0-14l-14 14M846.7 454.6l14 14m0-14l-14 14M847.2 454.8l14 14m0-14l-14 14M847.7 455.0l14 14m0-14l-14 14M848.2 455.3l14 14m0-14l-14 14M848.7 455.5l14 14m0-14l-14 14M849.3 455.8l14 14m0-14l-14 14M849.8 456.0l14 14m0-14l-14 14M850.3 456.2l14 14m0-14l-14 14M850.9 456.5l14 14m0-14l-14 14M851.4 456.7l14 14m0-14l-14 14M851.9 456.9l14 14m0-14l-14 14M852.5 457.2l14 14m0-14l-14 14M853.0 457.4l14 14m0-14l-14 14M853.5 457.6l14 14m0-14l-14 14M854.1 457.9l14 14m0-14l-14 14M854.6 458.1l14 14m0-14l-14 14M855.2 458.3l14 14m0-14l-14 14M855.7 458.5l14 14m0-14l-14 14M856.3 458.7l14 14m0-14l-14 14M856.8 459.0l14 14m0-14l-14 14M857.4 459.2l14 14m0-14l-14 14M857.9 459.4l14 14m0-14l-14 14M858.5 459.6l14 14m0-14l-14 14M859.0 459.8l14 14m0-14l-14 14M859.6 460.1l14 14m0-14l-14 14M860.1 460.3l14 14m0-14l-14 14M860.7 460.5l14 14m0-14l-14 14M861.2 460.7l14 14m0-14l-14 14M861.8 460.9l14 14m0-14l-14 14M862.3 461.1l14 14m0-14l-14 14M862.9 461.4l14 14m0-14l-14 14M863.4 461.6l14 14m0-14l-14 14M864.0 461.8l14 14m0-14l-14 14M864.5 462.0l14 14m0-14l-14 14M865.1 462.2l14 14m0-14l-14 14M865.6 462.4l14 14m0-14l-14 14M866.2 462.7l14 14m0-14l-14 14M866.7 462.9l14 14m0-14l-14 14M867.3 463.1l14 14m0-14l-14 14M867.8 463.3l14 14m0-14l-14 14M868.4 463.5l14 14m0-14l-14 14M868.9 463.8l14 14m0-14l-14 14M869.5 464.0l14 14m0-14l-14 14M870.0 464.2l14 14m0-14l-14 14M870.6 464.4l14 14m0-14l-14 14M871.1 464.6l14 14m0-14l-14 14M871.7 464.9l14 14m0-14l-14 14M872.2 465.1l14 14m0-14l-14 14M872.8 465.3l14 14m0-14l-14 14M873.3 465.5l14 14m0-14l-14 14M873.8 465.8l14 14m0-14l-14 14M874.4 466.0l14 14m0-14l-14 14M874.9 466.2l14 14m0-14l-14 14M875.4 466.5l14 14m0-14l-14 14M876.0 466.7l14 14m0-14l-14 14M876.5 466.9l14 14m0-14l-14 14M877.0 467.2l14 14m0-14l-14 14M877.6 467.4l14 14m0-14l-14 14M878.1 467.6l14 14m0-14l-14 14M878.6 467.9l14 14m0-14l-14 14M879.1 468.1l14 14m0-14l-14 14M879.7 468.3l14 14m0-14l-14 14M880.2 468.6l14 14m0-14l-14 14M880.7 468.8l14 14m0-14l-14 14M881.3 469.0l14 14m0-14l-14 14M881.8 469.3l14 14m0-14l-14 14M882.3 469.5l14 14m0-14l-14 14M882.8 469.7l14 14m0-14l-14 14M883.4 470.0l14 14m0-14l-14 14M883.9 470.2l14 14m0-14l-14 14M884.4 470.4l14 14m0-14l-14 14M885.0 470.7l14 14m0-14l-14 14M885.5 470.9l14 14m0-14l-14 14M886.0 471.1l14 14m0-14l-14 14M886.5 471.3l14 14m0-14l-14 14M887.1 471.6l14 14m0-14l-14 14M887.6 471.8l14 14m0-14l-14 14M888.2 472.0l14 14m0-14l-14 14M888.7 472.3l14 14m0-14l-14 14M889.2 472.5l14 14m0-14l-14 14M889.8 472.7l14 14m0-14l-14 14M890.3 472.9l14 14m0-14l-14 14M890.8 473.1l14 14m0-14l-14 14M891.4 473.4l14 14m0-14l-14 14M891.9 473.6l14 14m0-14l-14 14M892.5 473.8l14 14m0-14l-14 14M893.0 474.0l14 14m0-14l-14 14M893.6 474.2l14 14m0-14l-14 14M894.1 474.4l14 14m0-14l-14 14M894.7 474.7l14 14m0-14l-14 14M895.3 474.9l14 14m0-14l-14 14M895.8 475.1l14 14m0-14l-14 14M896.4 475.3l14 14m0-14l-14 14M897.0 475.5l14 14m0-14l-14 14M897.5 475.7l14 14m0-14l-14 14M898.1 475.9l14 14m0-14l-14 14M898.7 476.1l14 14m0-14l-14 14M899.3 476.3l14 14m0-14l-14 14M899.8 476.5l14 14m0-14l-14 14M900.4 476.7l14 14m0-14l-14 14M900.9 476.8l14 14m0-14l-14 14M901.4 476.9l14 14m0-14l-14 14M901.8 477.1l14 14m0-14l-14 14M902.3 477.2l14 14m0-14l-14 14M902.8 477.4l14 14m0-14l-14 14M903.3 477.5l14 14m0-14l-14 14M903.8 477.7l14 14m0-14l-14 14M904.3 477.8l14 14m0-14l-14 14M904.8 477.9l14 14m0-14l-14 14M905.2 478.1l14 14m0-14l-14 14M905.7 478.2l14 14m0-14l-14 14M906.2 478.3l14 14m0-14l-14 14M906.7 478.5l14 14m0-14l-14 14M907.2 478.6l14 14m0-14l-14 14M907.7 478.7l14 14m0-14l-14 14M908.2 478.8l14 14m0-14l-14 14M908.7 479.0l14 14m0-14l-14 14M909.2 479.1l14 14m0-14l-14 14M909.7 479.2l14 14m0-14l-14 14M910.2 479.3l14 14m0-14l-14 14M910.7 479.4l14 14m0-14l-14 14M911.2 479.5l14 14m0-14l-14 14M911.7 479.7l14 14m0-14l-14 14M912.2 479.8l14 14m0-14l-14 14M912.7 479.9l14 14m0-14l-14 14M913.2 480.0l14 14m0-14l-14 14M913.7 480.1l14 14m0-14l-14 14M914.3 480.2l14 14m0-14l-14 14M914.8 480.3l14 14m0-14l-14 14M915.3 480.4l14 14m0-14l-14 14M915.8 480.5l14 14m0-14l-14 14M916.3 480.6l14 14m0-14l-14 14M916.8 480.7l14 14m0-14l-14 14M917.3 480.8l14 14m0-14l-14 14M917.9 480.9l14 14m0-14l-14 14M918.4 481.0l14 14m0-14l-14 14M918.9 481.1l14 14m0-14l-14 14M919.4 481.2l14 14m0-14l-14 14M919.9 481.3l14 14m0-14l-14 14M920.5 481.4l14 14m0-14l-14 14M921.0 481.5l14 14m0-14l-14 14M921.5 481.6l14 14m0-14l-14 14M922.0 481.7l14 14m0-14l-14 14M922.6 481.8l14 14m0-14l-14 14M923.1 481.8l14 14m0-14l-14 14M923.7 481.9l14 14m0-14l-14 14M924.2 482.0l14 14m0-14l-14 14M924.7 482.1l14 14m0-14l-14 14M925.3 482.2l14 14m0-14l-14 14M925.8 482.3l14 14m0-14l-14 14M926.4 482.4l14 14m0-14l-14 14M926.9 482.5l14 14m0-14l-14 14M927.5 482.5l14 14m0-14l-14 14M928.0 482.6l14 14m0-14l-14 14M928.6 482.7l14 14m0-14l-14 14M929.1 482.8l14 14m0-14l-14 14M929.7 482.9l14 14m0-14l-14 14M930.2 482.9l14 14m0-14l-14 14M930.8 483.0l14 14m0-14l-14 14M931.4 483.1l14 14m0-14l-14 14M931.9 483.2l14 14m0-14l-14 14M932.5 483.3l14 14m0-14l-14 14M933.1 483.3l14 14m0-14l-14 14M933.6 483.4l14 14m0-14l-14 14M934.2 483.5l14 14m0-14l-14 14M934.8 483.6l14 14m0-14l-14 14M935.4 483.7l14 14m0-14l-14 14M936.0 483.7l14 14m0-14l-14 14M936.5 483.8l14 14m0-14l-14 14M937.1 483.9l14 14m0-14l-14 14M937.7 484.0l14 14m0-14l-14 14M938.3 484.0l14 14m0-14l-14 14M938.9 484.1l14 14m0-14l-14 14M939.5 484.2l14 14m0-14l-14 14M940.1 484.3l14 14m0-14l-14 14M940.7 484.3l14 14m0-14l-14 14M941.3 484.4l14 14m0-14l-14 14M941.9 484.5l14 14m0-14l-14 14M942.6 484.6l14 14m0-14l-14 14M943.2 484.7l14 14m0-14l-14 14M943.8 484.7l14 14m0-14l-14 14M944.4 484.8l14 14m0-14l-14 14M945.1 484.9l14 14m0-14l-14 14M945.5 484.9l14 14m0-14l-14 14M946.0 485.0l14 14m0-14l-14 14M946.5 485.1l14 14m0-14l-14 14M947.0 485.1l14 14m0-14l-14 14M947.4 485.2l14 14m0-14l-14 14M947.9 485.2l14 14m0-14l-14 14M948.4 485.3l14 14m0-14l-14 14M948.9 485.3l14 14m0-14l-14 14M949.4 485.4l14 14m0-14l-14 14M949.9 485.5l14 14m0-14l-14 14M950.5 485.5l14 14m0-14l-14 14M951.0 485.6l14 14m0-14l-14 14M951.5 485.6l14 14m0-14l-14 14M952.0 485.7l14 14m0-14l-14 14M952.5 485.8l14 14m0-14l-14 14M953.1 485.8l14 14m0-14l-14 14M953.6 485.9l14 14m0-14l-14 14M954.1 485.9l14 14m0-14l-14 14M954.7 486.0l14 14m0-14l-14 14M955.2 486.0l14 14m0-14l-14 14M955.8 486.1l14 14m0-14l-14 14M956.3 486.2l14 14m0-14l-14 14M956.9 486.2l14 14m0-14l-14 14M957.4 486.3l14 14m0-14l-14 14M958.0 486.3l14 14m0-14l-14 14M958.5 486.4l14 14m0-14l-14 14M959.1 486.4l14 14m0-14l-14 14M959.6 486.5l14 14m0-14l-14 14M960.2 486.6l14 14m0-14l-14 14M960.8 486.6l14 14m0-14l-14 14M961.3 486.7l14 14m0-14l-14 14M961.9 486.7l14 14m0-14l-14 14M962.5 486.8l14 14m0-14l-14 14M963.0 486.8l14 14m0-14l-14 14M963.6 486.9l14 14m0-14l-14 14M964.2 486.9l14 14m0-14l-14 14M964.8 487.0l14 14m0-14l-14 14M965.4 487.0l14 14m0-14l-14 14M965.9 487.1l14 14m0-14l-14 14M966.5 487.2l14 14m0-14l-14 14M967.1 487.2l14 14m0-14l-14 14M967.7 487.3l14 14m0-14l-14 14M968.3 487.3l14 14m0-14l-14 14M968.8 487.4l14 14m0-14l-14 14M969.4 487.4l14 14m0-14l-14 14M970.0 487.5l14 14m0-14l-14 14M970.6 487.5l14 14m0-14l-14 14M971.2 487.6l14 14m0-14l-14 14M971.8 487.6l14 14m0-14l-14 14M972.3 487.7l14 14m0-14l-14 14M972.9 487.7l14 14m0-14l-14 14M973.5 487.8l14 14m0-14l-14 14M974.1 487.8l14 14m0-14l-14 14M974.7 487.9l14 14m0-14l-14 14M975.2 487.9l14 14m0-14l-14 14M975.8 488.0l14 14m0-14l-14 14M976.4 488.0l14 14m0-14l-14 14M977.0 488.1l14 14m0-14l-14 14M977.6 488.1l14 14m0-14l-14 14M978.1 488.2l14 14m0-14l-14 14M978.7 488.2l14 14m0-14l-14 14M979.3 488.2l14 14m0-14l-14 14M979.9 488.3l14 14m0-14l-14 14M980.4 488.3l14 14m0-14l-14 14M981.0 488.4l14 14m0-14l-14 14M981.6 488.4l14 14m0-14l-14 14M982.1 488.5l14 14m0-14l-14 14M982.7 488.5l14 14m0-14l-14 14M983.3 488.6l14 14m0-14l-14 14M983.8 488.6l14 14m0-14l-14 14M984.4 488.6l14 14m0-14l-14 14M984.9 488.7l14 14m0-14l-14 14M985.5 488.7l14 14m0-14l-14 14M986.0 488.8l14 14m0-14l-14 14M986.6 488.8l14 14m0-14l-14 14M987.1 488.8l14 14m0-14l-14 14M987.7 488.9l14 14m0-14l-14 14M988.2 488.9l14 14m0-14l-14 14M988.7 488.9l14 14m0-14l-14 14M989.3 489.0l14 14m0-14l-14 14M989.8 489.0l14 14m0-14l-14 14M990.3 489.1l14 14m0-14l-14 14M990.9 489.1l14 14m0-14l-14 14M991.4 489.1l14 14m0-14l-14 14M991.9 489.2l14 14m0-14l-14 14M992.4 489.2l14 14m0-14l-14 14M992.9 489.2l14 14m0-14l-14 14M993.4 489.2l14 14m0-14l-14 14M993.9 489.3l14 14m0-14l-14 14M994.4 489.3l14 14m0-14l-14 14M994.9 489.3l14 14m0-14l-14 14M995.4 489.4l14 14m0-14l-14 14M995.9 489.4l14 14m0-14l-14 14M996.4 489.4l14 14m0-14l-14 14M996.8 489.4l14 14m0-14l-14 14M997.4 489.5l14 14m0-14l-14 14M998.1 489.5l14 14m0-14l-14 14M998.7 489.5l14 14m0-14l-14 14M999.3 489.6l14 14m0-14l-14 14M999.9 489.6l14 14m0-14l-14 14M1000.4 489.6l14 14m0-14l-14 14M1001.0 489.6l14 14m0-14l-14 14M1001.6 489.7l14 14m0-14l-14 14M1002.1 489.7l14 14m0-14l-14 14M1002.7 489.7l14 14m0-14l-14 14M1003.2 489.7l14 14m0-14l-14 14M1003.8 489.7l14 14m0-14l-14 14M1004.3 489.8l14 14m0-14l-14 14M1004.8 489.8l14 14m0-14l-14 14M1005.3 489.8l14 14m0-14l-14 14M1005.9 489.8l14 14m0-14l-14 14M1006.4 489.8l14 14m0-14l-14 14M1006.9 489.8l14 14m0-14l-14 14M1007.4 489.8l14 14m0-14l-14 14M1007.9 489.8l14 14m0-14l-14 14M1008.4 489.8l14 14m0-14l-14 14M1008.8 489.8l14 14m0-14l-14 14M1009.3 489.8l14 14m0-14l-14 14M1009.8 489.8l14 14m0-14l-14 14M1010.3 489.8l14 14m0-14l-14 14M1010.8 489.8l14 14m0-14l-14 14M1011.4 489.8l14 14m0-14l-14 14M1012.0 489.8l14 14m0-14l-14 14M1012.6 489.8l14 14m0-14l-14 14M1013.1 489.8l14 14m0-14l-14 14M1013.7 489.8l14 14m0-14l-14 14M1014.2 489.8l14 14m0-14l-14 14M1014.7 489.8l14 14m0-14l-14 14M1015.3 489.7l14 14m0-14l-14 14M1015.8 489.7l14 14m0-14l-14 14M1016.3 489.7l14 14m0-14l-14 14M1016.9 489.7l14 14m0-14l-14 14M1017.4 489.7l14 14m0-14l-14 14M1017.9 489.7l14 14m0-14l-14 14M1018.4 489.6l14 14m0-14l-14 14M1018.9 489.6l14 14m0-14l-14 14M1019.4 489.6l14 14m0-14l-14 14M1019.9 489.6l14 14m0-14l-14 14M1020.4 489.5l14 14m0-14l-14 14M1020.9 489.5l14 14m0-14l-14 14M1021.4 489.5l14 14m0-14l-14 14M1021.9 489.5l14 14m0-14l-14 14M1022.4 489.5l14 14m0-14l-14 14M1022.9 489.4l14 14m0-14l-14 14M1023.4 489.4l14 14m0-14l-14 14M1023.9 489.4l14 14m0-14l-14 14M1024.4 489.4l14 14m0-14l-14 14M1024.9 489.3l14 14m0-14l-14 14M1025.4 489.3l14 14m0-14l-14 14M1025.8 489.3l14 14m0-14l-14 14M1026.3 489.3l14 14m0-14l-14 14M1026.8 489.2l14 14m0-14l-14 14M1027.3 489.2l14 14m0-14l-14 14M1027.8 489.2l14 14m0-14l-14 14M1028.3 489.2l14 14m0-14l-14 14M1028.8 489.1l14 14m0-14l-14 14M1029.3 489.1l14 14m0-14l-14 14M1029.8 489.1l14 14m0-14l-14 14M1030.3 489.1l14 14m0-14l-14 14M1030.8 489.1l14 14m0-14l-14 14M1031.3 489.0l14 14m0-14l-14 14M1031.9 489.0l14 14m0-14l-14 14M1032.4 489.0l14 14m0-14l-14 14M1032.9 489.0l14 14m0-14l-14 14M1033.4 489.0l14 14m0-14l-14 14M1034.0 489.0l14 14m0-14l-14 14M1034.5 489.0l14 14m0-14l-14 14M1035.0 488.9l14 14m0-14l-14 14M1035.6 488.9l14 14m0-14l-14 14M1036.1 488.9l14 14m0-14l-14 14M1036.7 488.9l14 14m0-14l-14 14M1037.3 488.9l14 14m0-14l-14 14M1037.8 488.9l14 14m0-14l-14 14M1038.4 488.8l14 14m0-14l-14 14M1039.0 488.8l14 14m0-14l-14 14M1039.6 488.8l14 14m0-14l-14 14M1040.1 488.8l14 14m0-14l-14 14M1040.7 488.8l14 14m0-14l-14 14M1041.3 488.8l14 14m0-14l-14 14M1041.9 488.7l14 14m0-14l-14 14M1042.5 488.7l14 14m0-14l-14 14M1043.0 488.7l14 14m0-14l-14 14M1043.6 488.7l14 14m0-14l-14 14M1044.2 488.7l14 14m0-14l-14 14M1044.8 488.6l14 14m0-14l-14 14M1045.4 488.6l14 14m0-14l-14 14M1046.0 488.6l14 14m0-14l-14 14M1046.5 488.6l14 14m0-14l-14 14M1047.1 488.6l14 14m0-14l-14 14M1047.7 488.5l14 14m0-14l-14 14M1048.3 488.5l14 14m0-14l-14 14M1048.8 488.5l14 14m0-14l-14 14M1049.4 488.5l14 14m0-14l-14 14M1050.0 488.5l14 14m0-14l-14 14M1050.5 488.4l14 14m0-14l-14 14M1051.1 488.4l14 14m0-14l-14 14M1051.6 488.4l14 14m0-14l-14 14M1052.1 488.4l14 14m0-14l-14 14M1052.7 488.4l14 14m0-14l-14 14M1053.2 488.4l14 14m0-14l-14 14M1053.7 488.3l14 14m0-14l-14 14M1054.2 488.3l14 14m0-14l-14 14M1054.7 488.3l14 14m0-14l-14 14M1055.2 488.3l14 14m0-14l-14 14M1055.7 488.3l14 14m0-14l-14 14M1056.2 488.2l14 14m0-14l-14 14M1056.7 488.2l14 14m0-14l-14 14M1057.2 488.2l14 14m0-14l-14 14M1057.8 488.2l14 14m0-14l-14 14M1058.3 488.2l14 14m0-14l-14 14M1058.8 488.1l14 14m0-14l-14 14M1059.3 488.1l14 14m0-14l-14 14M1059.8 488.1l14 14m0-14l-14 14M1060.3 488.1l14 14m0-14l-14 14M1060.8 488.1l14 14m0-14l-14 14M1061.3 488.1l14 14m0-14l-14 14M1061.8 488.0l14 14m0-14l-14 14M1062.3 488.0l14 14m0-14l-14 14M1062.8 488.0l14 14m0-14l-14 14M1063.0 488.0l14 14m0-14l-14 14" stroke="#000" stroke-width="3.5" fill="none"/><path d="M769.6 194 L776.6 201 L769.6 208 L762.6 201 Z" fill="#fff" stroke="#000" stroke-width="2"/><path d="M769.6 194V208" stroke="#000" stroke-width="2"/>
<line x1="132.0" y1="214.0" x2="1070.0" y2="214.0" stroke="#ff0000" stroke-width="5.5" stroke-dasharray="21.5 16.65"/>
<line x1="746.4" y1="213.8" x2="746.4" y2="547.2" stroke="#ff0000" stroke-width="5.5" stroke-dasharray="21.7 16.45"/>
<line x1="773.2" y1="213.8" x2="773.2" y2="547.2" stroke="#ff0000" stroke-width="5.5" stroke-dasharray="21.7 16.45"/>
<circle cx="746.4" cy="544.6" r="10.5" fill="#ff0000"/>
<circle cx="773.2" cy="544.6" r="10.5" fill="#ff0000"/>
<circle cx="760" cy="56.3" r="28.5" fill="none" stroke="#ff0000" stroke-width="3.2"/>
<line x1="748" y1="417" x2="872.5" y2="417" stroke="#ff0000" stroke-width="3.6"/>
<path d="M748.8 417 L757.8 411.3 L757.8 422.7 Z M770.8 417 L760.4 411.3 L760.4 422.7 Z" fill="#ff0000"/>
<text x="120" y="560.8" text-anchor="end" style="font-family:'Liberation Serif',serif;font-size:36px" fill="#1a1a1a">0</text>
<text x="120" y="484.4" text-anchor="end" style="font-family:'Liberation Serif',serif;font-size:36px" fill="#1a1a1a">0.5</text>
<text x="120" y="408.0" text-anchor="end" style="font-family:'Liberation Serif',serif;font-size:36px" fill="#1a1a1a">1</text>
<text x="120" y="331.6" text-anchor="end" style="font-family:'Liberation Serif',serif;font-size:36px" fill="#1a1a1a">1.5</text>
<text x="120" y="255.2" text-anchor="end" style="font-family:'Liberation Serif',serif;font-size:36px" fill="#1a1a1a">2</text>
<text x="120" y="178.8" text-anchor="end" style="font-family:'Liberation Serif',serif;font-size:36px" fill="#1a1a1a">2.5</text>
<text x="120" y="102.4" text-anchor="end" style="font-family:'Liberation Serif',serif;font-size:36px" fill="#1a1a1a">3</text>
<text x="120" y="26.0" text-anchor="end" style="font-family:'Liberation Serif',serif;font-size:36px" fill="#1a1a1a">3.5</text>
<text x="133.0" y="592" text-anchor="middle" style="font-family:'Liberation Serif',serif;font-size:36px" fill="#1a1a1a">1500</text>
<text x="320.6" y="592" text-anchor="middle" style="font-family:'Liberation Serif',serif;font-size:36px" fill="#1a1a1a">1510</text>
<text x="508.2" y="592" text-anchor="middle" style="font-family:'Liberation Serif',serif;font-size:36px" fill="#1a1a1a">1520</text>
<text x="695.8" y="592" text-anchor="middle" style="font-family:'Liberation Serif',serif;font-size:36px" fill="#1a1a1a">1530</text>
<text x="883.4" y="592" text-anchor="middle" style="font-family:'Liberation Serif',serif;font-size:36px" fill="#1a1a1a">1540</text>
<text x="1071.0" y="592" text-anchor="middle" style="font-family:'Liberation Serif',serif;font-size:36px" fill="#1a1a1a">1550</text>
<rect x="156.3" y="281.3" width="70.5" height="4.3" fill="#000"/>
<path d="M157 325 L163 321.5 L173 347.5 L191 298.2 L226.5 298.2" stroke="#000" stroke-width="4.2" fill="none" stroke-linejoin="miter"/>
<g><path d="M817 61 Q820.5 57 824 57.2 Q826.3 58 825.9 62.5 L824.5 78 Q824.3 81.5 827 81.3" stroke="#000" stroke-width="4.6" fill="none" stroke-linecap="round"/><path d="M826.5 81.4 Q837 76.8 841.2 67.5 Q844 60.5 842.6 57.8 Q840.5 56 836.3 58.3 L834.5 60.3" stroke="#000" stroke-width="3.6" fill="none" stroke-linecap="round"/></g>
<g transform="translate(166,228.7) scale(0.9895,0.968) translate(-816.3,-54.9)"><path d="M817 61 Q820.5 57 824 57.2 Q826.3 58 825.9 62.5 L824.5 78 Q824.3 81.5 827 81.3" stroke="#000" stroke-width="4.6" fill="none" stroke-linecap="round"/><path d="M826.5 81.4 Q837 76.8 841.2 67.5 Q844 60.5 842.6 57.8 Q840.5 56 836.3 58.3 L834.5 60.3" stroke="#000" stroke-width="3.6" fill="none" stroke-linecap="round"/></g>
<path d="M833.9 361.2 L838.9 361.2 L848.7 395.2 L821.9 395.2 Z M835.5 367.4 L826.3 391.2 L843.6 391.2 Z" fill="#000" fill-rule="evenodd"/>
<g><path d="M693.6 536.8 Q697.5 537.4 700.3 530 Q702.5 522 704.3 513 L706.5 503 Q708.5 495.2 713.5 494 Q716.5 493.6 718 494.3" stroke="#000" stroke-width="3.7" fill="none" stroke-linecap="round"/><path d="M700.8 528 L705.6 506" stroke="#000" stroke-width="5.2" fill="none" stroke-linecap="round"/><path d="M714 492.4 L719.8 492.4 L718.4 497.2 L716.2 494.6 Z" fill="#000"/><circle cx="694" cy="536" r="2.2" fill="#000"/><rect x="699.5" y="504" width="14.4" height="2.6" fill="#000"/></g>
<path d="M717.3 514.3 L722.7 513.7 M721.7 514 L717 532.3 Q716.2 536.3 719.4 535.9 Q721.6 535.4 723.9 533.3" stroke="#000" stroke-width="3.8" fill="none" stroke-linecap="round" stroke-linejoin="round"/>
<g transform="translate(100.3,0)"><path d="M693.6 536.8 Q697.5 537.4 700.3 530 Q702.5 522 704.3 513 L706.5 503 Q708.5 495.2 713.5 494 Q716.5 493.6 718 494.3" stroke="#000" stroke-width="3.7" fill="none" stroke-linecap="round"/><path d="M700.8 528 L705.6 506" stroke="#000" stroke-width="5.2" fill="none" stroke-linecap="round"/><path d="M714 492.4 L719.8 492.4 L718.4 497.2 L716.2 494.6 Z" fill="#000"/><circle cx="694" cy="536" r="2.2" fill="#000"/><rect x="699.5" y="504" width="14.4" height="2.6" fill="#000"/></g>
<g transform="translate(850,359.4) scale(1.04,1.013) translate(-692.7,-492.2)"><path d="M693.6 536.8 Q697.5 537.4 700.3 530 Q702.5 522 704.3 513 L706.5 503 Q708.5 495.2 713.5 494 Q716.5 493.6 718 494.3" stroke="#000" stroke-width="3.7" fill="none" stroke-linecap="round"/><path d="M700.8 528 L705.6 506" stroke="#000" stroke-width="5.2" fill="none" stroke-linecap="round"/><path d="M714 492.4 L719.8 492.4 L718.4 497.2 L716.2 494.6 Z" fill="#000"/><circle cx="694" cy="536" r="2.2" fill="#000"/><rect x="699.5" y="504" width="14.4" height="2.6" fill="#000"/></g>
<path d="M811.2 523.6 Q814.3 520.6 817.2 521.2 L815.2 532 Q814.6 537.3 819 537 Q825 535.8 828.6 529" stroke="#000" stroke-width="3.8" fill="none" stroke-linecap="round" stroke-linejoin="round"/>
<path d="M830.6 520.4 L828 532.5 Q827.4 536.5 830.2 536 Q832 535.4 833.5 533.6" stroke="#000" stroke-width="3.5" fill="none" stroke-linecap="round" stroke-linejoin="round"/>
<rect x="356.9" y="415" width="31.1" height="3.2" fill="#000"/><rect x="356.9" y="425.1" width="31.1" height="3.2" fill="#000"/>
<rect x="132.0" y="691.0" width="937.2" height="519.2" fill="none" stroke="#1e1e1e" stroke-width="3"/>
<path d="M319.4 691.0v10.5M319.4 1210.2v-10.5M506.9 691.0v10.5M506.9 1210.2v-10.5M694.3 691.0v10.5M694.3 1210.2v-10.5M881.8 691.0v10.5M881.8 1210.2v-10.5M132.0 1106.4h10.5M1069.2 1106.4h-10.5M132.0 1002.5h10.5M1069.2 1002.5h-10.5M132.0 898.7h10.5M1069.2 898.7h-10.5M132.0 794.8h10.5M1069.2 794.8h-10.5" stroke="#1e1e1e" stroke-width="3" fill="none"/>
<text x="120" y="1223.4" text-anchor="end" style="font-family:'Liberation Serif',serif;font-size:36px" fill="#1a1a1a">1000</text>
<text x="120" y="1119.6" text-anchor="end" style="font-family:'Liberation Serif',serif;font-size:36px" fill="#1a1a1a">1100</text>
<text x="120" y="1015.7" text-anchor="end" style="font-family:'Liberation Serif',serif;font-size:36px" fill="#1a1a1a">1200</text>
<text x="120" y="911.9" text-anchor="end" style="font-family:'Liberation Serif',serif;font-size:36px" fill="#1a1a1a">1300</text>
<text x="120" y="808.0" text-anchor="end" style="font-family:'Liberation Serif',serif;font-size:36px" fill="#1a1a1a">1400</text>
<text x="120" y="704.2" text-anchor="end" style="font-family:'Liberation Serif',serif;font-size:36px" fill="#1a1a1a">1500</text>
<text x="132.5" y="1255" text-anchor="middle" style="font-family:'Liberation Serif',serif;font-size:36px" fill="#1a1a1a">0</text>
<text x="319.9" y="1255" text-anchor="middle" style="font-family:'Liberation Serif',serif;font-size:36px" fill="#1a1a1a">5</text>
<text x="507.4" y="1255" text-anchor="middle" style="font-family:'Liberation Serif',serif;font-size:36px" fill="#1a1a1a">10</text>
<text x="694.8" y="1255" text-anchor="middle" style="font-family:'Liberation Serif',serif;font-size:36px" fill="#1a1a1a">15</text>
<text x="882.3" y="1255" text-anchor="middle" style="font-family:'Liberation Serif',serif;font-size:36px" fill="#1a1a1a">20</text>
<text x="1069.7" y="1255" text-anchor="middle" style="font-family:'Liberation Serif',serif;font-size:36px" fill="#1a1a1a">25</text>
<path d="M168.9 973.3 L206.5 1010.9 L281.8 1036.9 L356.4 1044.7 L431.7 989.2 L506.6 984.9 L581.8 968.7 L656.5 928.7 L731.4 879.9 L806.7 844.7 L882.0 853.0 L956.4 917.4" stroke="#111" stroke-width="2.6" fill="none"/>
<circle cx="168.9" cy="973.3" r="12.7" fill="none" stroke="#111" stroke-width="3"/>
<circle cx="206.5" cy="1010.9" r="12.7" fill="none" stroke="#111" stroke-width="3"/>
<circle cx="281.8" cy="1036.9" r="12.7" fill="none" stroke="#111" stroke-width="3"/>
<circle cx="356.4" cy="1044.7" r="12.7" fill="none" stroke="#111" stroke-width="3"/>
<circle cx="431.7" cy="989.2" r="12.7" fill="none" stroke="#111" stroke-width="3"/>
<circle cx="506.6" cy="984.9" r="12.7" fill="none" stroke="#111" stroke-width="3"/>
<circle cx="581.8" cy="968.7" r="12.7" fill="none" stroke="#111" stroke-width="3"/>
<circle cx="656.5" cy="928.7" r="12.7" fill="none" stroke="#111" stroke-width="3"/>
<circle cx="731.4" cy="879.9" r="12.7" fill="none" stroke="#111" stroke-width="3"/>
<circle cx="806.7" cy="844.7" r="12.7" fill="none" stroke="#111" stroke-width="3"/>
<circle cx="882.0" cy="853.0" r="12.7" fill="none" stroke="#111" stroke-width="3"/>
<circle cx="956.4" cy="917.4" r="12.7" fill="none" stroke="#111" stroke-width="3"/>
<text transform="translate(-0.92,24.62) scale(0.9768,1)" style="font-family:'Liberation Sans';font-weight:normal;font-style:normal;font-size:33.26px" fill="#000">(a)</text>
<text transform="translate(-0.69,702.32) scale(0.9580,1)" style="font-family:'Liberation Sans';font-weight:normal;font-style:normal;font-size:33.26px" fill="#000">(b)</text>
<text transform="translate(144.84,70.78) scale(0.9675,1)" style="font-family:'Liberation Sans';font-weight:bold;font-style:normal;font-size:52.31px" fill="#0000ff">10 V</text>
<text transform="translate(249.27,82.51) scale(1.0208,1)" style="font-family:'Liberation Sans';font-weight:bold;font-style:normal;font-size:33.31px" fill="#0000ff">pp</text>
<text transform="translate(248.15,162.98) scale(1.0454,1)" style="font-family:'Liberation Sans';font-weight:normal;font-style:normal;font-size:41.37px" fill="#000">1533.40 kHz, 3.22 m</text>
<text transform="translate(647.97,173.49) scale(1.0160,1)" style="font-family:'Liberation Sans';font-weight:normal;font-style:normal;font-size:28.87px" fill="#000">pp</text>
<text transform="translate(680.60,163.82) scale(0.9860,1)" style="font-family:'Liberation Sans';font-weight:normal;font-style:normal;font-size:43.33px" fill="#000">/s</text>
<text transform="translate(472.14,632.84) scale(1.0731,1)" style="font-family:'Liberation Serif';font-weight:bold;font-style:normal;font-size:33.19px" fill="#1a1a1a">Frequency [kHz]</text>
<text transform="translate(45.84,404.00) rotate(-90) scale(1.0123,1)" style="font-family:'Liberation Serif';font-weight:bold;font-style:normal;font-size:35.47px" fill="#1a1a1a">Velocity [m</text>
<text transform="translate(64.38,225.00) rotate(-90) scale(0.9889,1)" style="font-family:'Liberation Serif';font-weight:bold;font-style:normal;font-size:28.87px" fill="#1a1a1a">pp</text>
<text transform="translate(46.88,191.37) rotate(-90) scale(0.9231,1)" style="font-family:'Liberation Serif';font-weight:bold;font-style:normal;font-size:36.44px" fill="#1a1a1a">/s]</text>
<text transform="translate(190.28,267.70) scale(1.2321,1)" style="font-family:'Liberation Serif';font-weight:normal;font-style:italic;font-size:44.80px" fill="#000">r</text>
<text transform="translate(195.69,346.40) scale(1.0268,1)" style="font-family:'Liberation Serif';font-weight:normal;font-style:normal;font-size:56.56px" fill="#000">2</text>
<text transform="translate(267.43,436.24) scale(0.9229,1)" style="font-family:'Liberation Serif';font-weight:bold;font-style:italic;font-size:50.96px" fill="#000">Q</text>
<text transform="translate(302.28,445.70) scale(1.2050,1)" style="font-family:'Liberation Serif';font-weight:bold;font-style:italic;font-size:37.99px" fill="#000">m</text>
<text transform="translate(404.87,435.61) scale(1.1611,1)" style="font-family:'Liberation Serif';font-weight:bold;font-style:normal;font-size:50.47px" fill="#000">1215.</text>
<text transform="translate(545.93,436.40) scale(1.1149,1)" style="font-family:'Liberation Serif';font-weight:bold;font-style:normal;font-size:51.05px" fill="#000">7</text>
<text transform="translate(841.74,94.20) scale(1.1845,1)" style="font-family:'Liberation Serif';font-weight:normal;font-style:italic;font-size:44.80px" fill="#000">r</text>
<text transform="translate(434.24,1296.58) scale(1.0667,1)" style="font-family:'Liberation Serif';font-weight:bold;font-style:normal;font-size:33.81px" fill="#1a1a1a">Driving voltage [V</text>
<text transform="translate(722.40,1315.37) scale(1.0290,1)" style="font-family:'Liberation Serif';font-weight:bold;font-style:normal;font-size:28.02px" fill="#1a1a1a">pp</text>
<text transform="translate(754.50,1299.25) scale(0.8571,1)" style="font-family:'Liberation Serif';font-weight:bold;font-style:normal;font-size:37.33px" fill="#1a1a1a">]</text>
<text transform="translate(33.75,1060.30) rotate(-90) scale(1.0374,1)" style="font-family:'Liberation Serif';font-weight:bold;font-style:normal;font-size:34.99px" fill="#1a1a1a">Quality factor</text>
</svg>
</body></html>
